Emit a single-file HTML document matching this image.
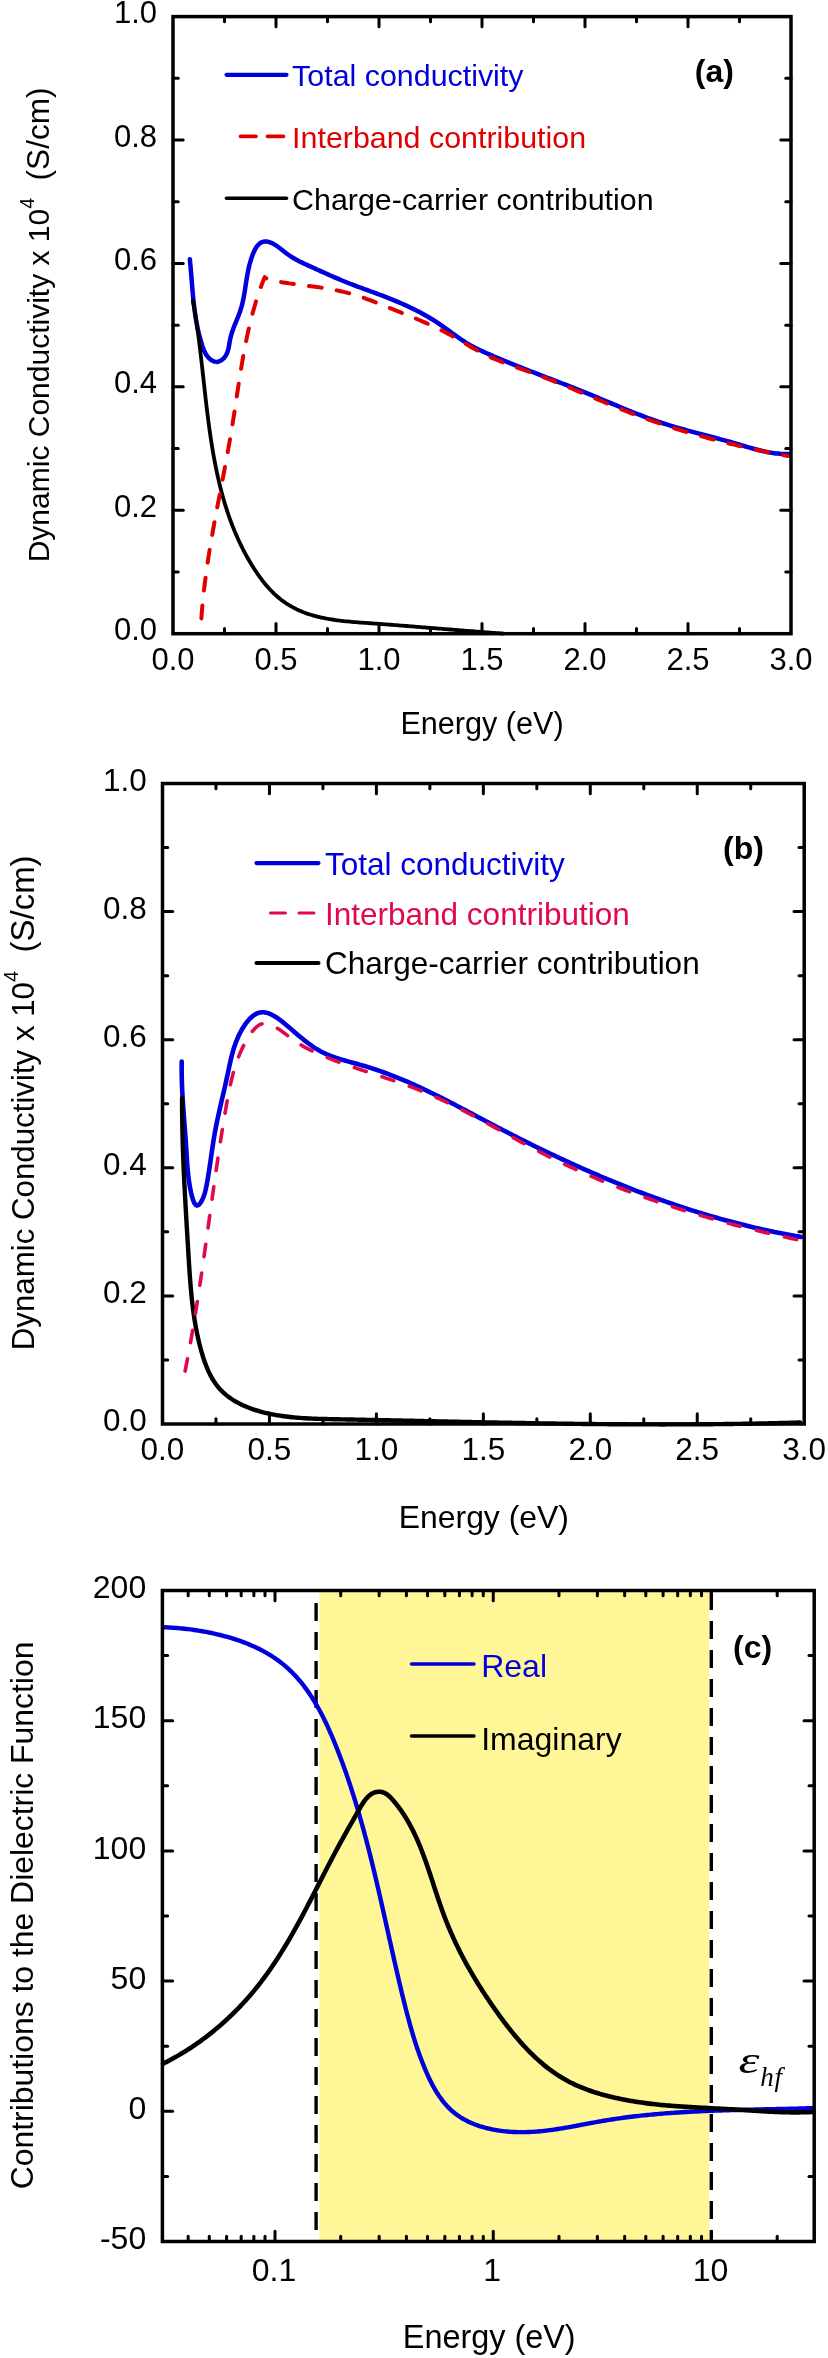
<!DOCTYPE html>
<html><head><meta charset="utf-8"><style>
html,body{margin:0;padding:0;background:#fff;font-family:"Liberation Sans", sans-serif;width:828px;height:2358px;overflow:hidden;}
svg{display:block;filter:blur(0.35px);}

</style></head><body>
<svg width="828" height="2358" viewBox="0 0 828 2358">
<rect x="0" y="0" width="828" height="2358" fill="#fff"/>
<line x1="224.50" y1="633.70" x2="224.50" y2="628.50" stroke="#000" stroke-width="3.00" stroke-linecap="round"/>
<line x1="224.50" y1="16.60" x2="224.50" y2="21.80" stroke="#000" stroke-width="3.00" stroke-linecap="round"/>
<line x1="276.00" y1="633.70" x2="276.00" y2="623.50" stroke="#000" stroke-width="3.00" stroke-linecap="round"/>
<line x1="276.00" y1="16.60" x2="276.00" y2="26.80" stroke="#000" stroke-width="3.00" stroke-linecap="round"/>
<line x1="327.50" y1="633.70" x2="327.50" y2="628.50" stroke="#000" stroke-width="3.00" stroke-linecap="round"/>
<line x1="327.50" y1="16.60" x2="327.50" y2="21.80" stroke="#000" stroke-width="3.00" stroke-linecap="round"/>
<line x1="379.00" y1="633.70" x2="379.00" y2="623.50" stroke="#000" stroke-width="3.00" stroke-linecap="round"/>
<line x1="379.00" y1="16.60" x2="379.00" y2="26.80" stroke="#000" stroke-width="3.00" stroke-linecap="round"/>
<line x1="430.50" y1="633.70" x2="430.50" y2="628.50" stroke="#000" stroke-width="3.00" stroke-linecap="round"/>
<line x1="430.50" y1="16.60" x2="430.50" y2="21.80" stroke="#000" stroke-width="3.00" stroke-linecap="round"/>
<line x1="482.00" y1="633.70" x2="482.00" y2="623.50" stroke="#000" stroke-width="3.00" stroke-linecap="round"/>
<line x1="482.00" y1="16.60" x2="482.00" y2="26.80" stroke="#000" stroke-width="3.00" stroke-linecap="round"/>
<line x1="533.50" y1="633.70" x2="533.50" y2="628.50" stroke="#000" stroke-width="3.00" stroke-linecap="round"/>
<line x1="533.50" y1="16.60" x2="533.50" y2="21.80" stroke="#000" stroke-width="3.00" stroke-linecap="round"/>
<line x1="585.00" y1="633.70" x2="585.00" y2="623.50" stroke="#000" stroke-width="3.00" stroke-linecap="round"/>
<line x1="585.00" y1="16.60" x2="585.00" y2="26.80" stroke="#000" stroke-width="3.00" stroke-linecap="round"/>
<line x1="636.50" y1="633.70" x2="636.50" y2="628.50" stroke="#000" stroke-width="3.00" stroke-linecap="round"/>
<line x1="636.50" y1="16.60" x2="636.50" y2="21.80" stroke="#000" stroke-width="3.00" stroke-linecap="round"/>
<line x1="688.00" y1="633.70" x2="688.00" y2="623.50" stroke="#000" stroke-width="3.00" stroke-linecap="round"/>
<line x1="688.00" y1="16.60" x2="688.00" y2="26.80" stroke="#000" stroke-width="3.00" stroke-linecap="round"/>
<line x1="739.50" y1="633.70" x2="739.50" y2="628.50" stroke="#000" stroke-width="3.00" stroke-linecap="round"/>
<line x1="739.50" y1="16.60" x2="739.50" y2="21.80" stroke="#000" stroke-width="3.00" stroke-linecap="round"/>
<line x1="173.00" y1="571.99" x2="178.20" y2="571.99" stroke="#000" stroke-width="3.00" stroke-linecap="round"/>
<line x1="791.00" y1="571.99" x2="785.80" y2="571.99" stroke="#000" stroke-width="3.00" stroke-linecap="round"/>
<line x1="173.00" y1="510.28" x2="183.20" y2="510.28" stroke="#000" stroke-width="3.00" stroke-linecap="round"/>
<line x1="791.00" y1="510.28" x2="780.80" y2="510.28" stroke="#000" stroke-width="3.00" stroke-linecap="round"/>
<line x1="173.00" y1="448.57" x2="178.20" y2="448.57" stroke="#000" stroke-width="3.00" stroke-linecap="round"/>
<line x1="791.00" y1="448.57" x2="785.80" y2="448.57" stroke="#000" stroke-width="3.00" stroke-linecap="round"/>
<line x1="173.00" y1="386.86" x2="183.20" y2="386.86" stroke="#000" stroke-width="3.00" stroke-linecap="round"/>
<line x1="791.00" y1="386.86" x2="780.80" y2="386.86" stroke="#000" stroke-width="3.00" stroke-linecap="round"/>
<line x1="173.00" y1="325.15" x2="178.20" y2="325.15" stroke="#000" stroke-width="3.00" stroke-linecap="round"/>
<line x1="791.00" y1="325.15" x2="785.80" y2="325.15" stroke="#000" stroke-width="3.00" stroke-linecap="round"/>
<line x1="173.00" y1="263.44" x2="183.20" y2="263.44" stroke="#000" stroke-width="3.00" stroke-linecap="round"/>
<line x1="791.00" y1="263.44" x2="780.80" y2="263.44" stroke="#000" stroke-width="3.00" stroke-linecap="round"/>
<line x1="173.00" y1="201.73" x2="178.20" y2="201.73" stroke="#000" stroke-width="3.00" stroke-linecap="round"/>
<line x1="791.00" y1="201.73" x2="785.80" y2="201.73" stroke="#000" stroke-width="3.00" stroke-linecap="round"/>
<line x1="173.00" y1="140.02" x2="183.20" y2="140.02" stroke="#000" stroke-width="3.00" stroke-linecap="round"/>
<line x1="791.00" y1="140.02" x2="780.80" y2="140.02" stroke="#000" stroke-width="3.00" stroke-linecap="round"/>
<line x1="173.00" y1="78.31" x2="178.20" y2="78.31" stroke="#000" stroke-width="3.00" stroke-linecap="round"/>
<line x1="791.00" y1="78.31" x2="785.80" y2="78.31" stroke="#000" stroke-width="3.00" stroke-linecap="round"/>
<text x="173.00" y="670.00" font-size="31.00" text-anchor="middle" font-weight="normal" fill="#000" font-family='"Liberation Sans", sans-serif' >0.0</text>
<text x="276.00" y="670.00" font-size="31.00" text-anchor="middle" font-weight="normal" fill="#000" font-family='"Liberation Sans", sans-serif' >0.5</text>
<text x="379.00" y="670.00" font-size="31.00" text-anchor="middle" font-weight="normal" fill="#000" font-family='"Liberation Sans", sans-serif' >1.0</text>
<text x="482.00" y="670.00" font-size="31.00" text-anchor="middle" font-weight="normal" fill="#000" font-family='"Liberation Sans", sans-serif' >1.5</text>
<text x="585.00" y="670.00" font-size="31.00" text-anchor="middle" font-weight="normal" fill="#000" font-family='"Liberation Sans", sans-serif' >2.0</text>
<text x="688.00" y="670.00" font-size="31.00" text-anchor="middle" font-weight="normal" fill="#000" font-family='"Liberation Sans", sans-serif' >2.5</text>
<text x="791.00" y="670.00" font-size="31.00" text-anchor="middle" font-weight="normal" fill="#000" font-family='"Liberation Sans", sans-serif' >3.0</text>
<text x="157.10" y="640.20" font-size="31.00" text-anchor="end" font-weight="normal" fill="#000" font-family='"Liberation Sans", sans-serif' >0.0</text>
<text x="157.10" y="516.78" font-size="31.00" text-anchor="end" font-weight="normal" fill="#000" font-family='"Liberation Sans", sans-serif' >0.2</text>
<text x="157.10" y="393.36" font-size="31.00" text-anchor="end" font-weight="normal" fill="#000" font-family='"Liberation Sans", sans-serif' >0.4</text>
<text x="157.10" y="269.94" font-size="31.00" text-anchor="end" font-weight="normal" fill="#000" font-family='"Liberation Sans", sans-serif' >0.6</text>
<text x="157.10" y="146.52" font-size="31.00" text-anchor="end" font-weight="normal" fill="#000" font-family='"Liberation Sans", sans-serif' >0.8</text>
<text x="157.10" y="23.10" font-size="31.00" text-anchor="end" font-weight="normal" fill="#000" font-family='"Liberation Sans", sans-serif' >1.0</text>
<text x="482.00" y="733.80" font-size="30.60" text-anchor="middle" font-weight="normal" fill="#000" font-family='"Liberation Sans", sans-serif' >Energy (eV)</text>
<text transform="translate(49.3,562.3) rotate(-90)" font-size="30" font-family='"Liberation Sans", sans-serif' fill="#000">Dynamic Conductivity x 10<tspan font-size="19.5" dy="-15.5">4</tspan><tspan dy="15.5" font-size="31.6">&#160;&#160;(S/cm)</tspan></text>
<path d="M189.85,259.25 L190.05,261.30 L190.25,263.35 L190.44,265.39 L190.62,267.42 L190.80,269.44 L190.97,271.46 L191.14,273.47 L191.30,275.48 L191.46,277.48 L191.62,279.48 L191.78,281.47 L191.94,283.45 L192.10,285.44 L192.27,287.41 L192.43,289.39 L192.60,291.36 L192.78,293.33 L192.96,295.30 L193.14,297.26 L193.34,299.23 L193.54,301.19 L193.75,303.15 L193.98,305.11 L194.21,307.07 L194.46,309.03 L194.71,310.99 L194.99,312.95 L195.27,314.91 L195.58,316.88 L195.89,318.84 L196.23,320.81 L196.58,322.78 L196.96,324.75 L197.35,326.73 L197.76,328.71 L198.20,330.69 L198.66,332.68 L199.14,334.68 L199.65,336.67 L200.18,338.68 L200.74,340.68 L201.33,342.70 L201.94,344.72 L202.60,346.72 L203.32,348.69 L204.10,350.61 L204.98,352.46 L205.95,354.21 L207.04,355.86 L208.26,357.38 L209.61,358.74 L211.13,359.94 L212.79,360.92 L214.55,361.60 L216.33,361.89 L218.09,361.73 L219.80,361.16 L221.43,360.25 L222.95,359.05 L224.32,357.61 L225.52,355.99 L226.52,354.25 L227.32,352.41 L227.95,350.51 L228.46,348.54 L228.88,346.54 L229.23,344.50 L229.57,342.46 L229.93,340.42 L230.34,338.41 L230.82,336.42 L231.37,334.45 L231.96,332.51 L232.61,330.59 L233.29,328.69 L234.01,326.80 L234.75,324.92 L235.50,323.06 L236.26,321.20 L237.02,319.35 L237.77,317.50 L238.50,315.65 L239.21,313.80 L239.88,311.94 L240.52,310.08 L241.10,308.20 L241.64,306.32 L242.14,304.42 L242.60,302.52 L243.03,300.60 L243.43,298.68 L243.80,296.75 L244.15,294.81 L244.48,292.87 L244.80,290.91 L245.10,288.95 L245.41,286.99 L245.70,285.02 L246.00,283.04 L246.31,281.05 L246.63,279.07 L246.95,277.07 L247.30,275.08 L247.67,273.07 L248.06,271.07 L248.48,269.06 L248.94,267.05 L249.43,265.04 L249.96,263.02 L250.54,261.01 L251.17,258.99 L251.85,256.97 L252.59,254.95 L253.39,252.95 L254.26,250.99 L255.20,249.12 L256.24,247.37 L257.37,245.79 L258.61,244.40 L259.96,243.24 L261.43,242.35 L263.03,241.77 L264.74,241.51 L266.49,241.53 L268.25,241.81 L269.99,242.30 L271.71,243.00 L273.43,243.86 L275.13,244.87 L276.83,246.00 L278.52,247.22 L280.21,248.50 L281.90,249.83 L283.59,251.17 L285.28,252.49 L286.97,253.78 L288.67,255.00 L290.38,256.16 L292.10,257.26 L293.83,258.30 L295.56,259.29 L297.30,260.23 L299.04,261.14 L300.79,262.02 L302.55,262.88 L304.32,263.71 L306.09,264.53 L307.88,265.35 L309.66,266.16 L311.46,266.98 L313.26,267.80 L315.07,268.62 L316.88,269.44 L318.70,270.27 L320.52,271.09 L322.35,271.92 L324.18,272.74 L326.02,273.56 L327.86,274.38 L329.70,275.19 L331.55,276.01 L333.40,276.81 L335.25,277.61 L337.10,278.41 L338.96,279.19 L340.81,279.97 L342.67,280.74 L344.53,281.50 L346.39,282.26 L348.25,283.00 L350.11,283.73 L351.96,284.45 L353.82,285.16 L355.68,285.86 L357.54,286.56 L359.39,287.25 L361.25,287.93 L363.11,288.61 L364.97,289.29 L366.82,289.97 L368.68,290.65 L370.54,291.32 L372.40,292.00 L374.26,292.69 L376.12,293.37 L377.98,294.06 L379.85,294.76 L381.71,295.46 L383.58,296.17 L385.44,296.89 L387.31,297.62 L389.17,298.35 L391.03,299.10 L392.89,299.85 L394.75,300.62 L396.61,301.39 L398.47,302.18 L400.32,302.97 L402.16,303.78 L404.01,304.59 L405.84,305.42 L407.68,306.27 L409.51,307.12 L411.33,307.99 L413.14,308.87 L414.95,309.76 L416.75,310.67 L418.54,311.59 L420.33,312.53 L422.10,313.48 L423.87,314.45 L425.63,315.43 L427.38,316.43 L429.11,317.44 L430.84,318.47 L432.55,319.52 L434.26,320.59 L435.95,321.67 L437.63,322.78 L439.29,323.90 L440.94,325.03 L442.59,326.18 L444.22,327.34 L445.85,328.51 L447.48,329.68 L449.10,330.86 L450.72,332.04 L452.34,333.22 L453.96,334.39 L455.58,335.56 L457.21,336.72 L458.84,337.86 L460.49,338.99 L462.14,340.11 L463.80,341.21 L465.48,342.28 L467.17,343.33 L468.88,344.36 L470.60,345.35 L472.34,346.32 L474.10,347.26 L475.88,348.17 L477.66,349.06 L479.46,349.93 L481.27,350.78 L483.09,351.62 L484.91,352.45 L486.74,353.26 L488.57,354.07 L490.41,354.88 L492.25,355.67 L494.09,356.47 L495.93,357.26 L497.77,358.04 L499.61,358.82 L501.46,359.59 L503.31,360.36 L505.16,361.12 L507.01,361.89 L508.86,362.64 L510.72,363.40 L512.58,364.15 L514.43,364.89 L516.29,365.64 L518.15,366.38 L520.01,367.12 L521.88,367.85 L523.74,368.59 L525.60,369.32 L527.47,370.05 L529.34,370.77 L531.20,371.50 L533.07,372.22 L534.94,372.95 L536.81,373.67 L538.68,374.39 L540.55,375.11 L542.42,375.83 L544.29,376.54 L546.16,377.26 L548.03,377.98 L549.90,378.70 L551.77,379.42 L553.64,380.14 L555.51,380.85 L557.38,381.57 L559.25,382.30 L561.12,383.02 L562.99,383.74 L564.86,384.47 L566.73,385.19 L568.60,385.92 L570.47,386.65 L572.34,387.38 L574.20,388.12 L576.07,388.85 L577.93,389.59 L579.80,390.34 L581.66,391.08 L583.52,391.83 L585.38,392.58 L587.24,393.34 L589.10,394.10 L590.95,394.86 L592.81,395.62 L594.67,396.39 L596.52,397.16 L598.37,397.94 L600.23,398.71 L602.08,399.49 L603.93,400.26 L605.78,401.04 L607.63,401.82 L609.49,402.59 L611.34,403.37 L613.19,404.15 L615.04,404.92 L616.90,405.69 L618.75,406.46 L620.60,407.23 L622.46,408.00 L624.31,408.76 L626.17,409.52 L628.03,410.28 L629.89,411.03 L631.75,411.78 L633.61,412.52 L635.48,413.26 L637.34,413.99 L639.21,414.72 L641.08,415.44 L642.95,416.16 L644.82,416.87 L646.70,417.57 L648.58,418.26 L650.46,418.95 L652.34,419.63 L654.23,420.30 L656.12,420.96 L658.01,421.61 L659.91,422.25 L661.81,422.88 L663.71,423.50 L665.61,424.12 L667.52,424.72 L669.44,425.31 L671.35,425.90 L673.27,426.47 L675.19,427.04 L677.11,427.61 L679.03,428.16 L680.96,428.71 L682.89,429.25 L684.82,429.79 L686.75,430.32 L688.69,430.85 L690.62,431.38 L692.56,431.90 L694.50,432.42 L696.44,432.93 L698.38,433.45 L700.32,433.96 L702.26,434.47 L704.20,434.98 L706.15,435.48 L708.09,435.99 L710.03,436.50 L711.98,437.01 L713.92,437.52 L715.86,438.04 L717.80,438.55 L719.75,439.07 L721.69,439.59 L723.63,440.12 L725.57,440.64 L727.51,441.18 L729.44,441.72 L731.38,442.26 L733.32,442.81 L735.25,443.36 L737.18,443.93 L739.11,444.50 L741.04,445.07 L742.96,445.65 L744.89,446.22 L746.82,446.79 L748.75,447.36 L750.67,447.92 L752.60,448.47 L754.53,449.01 L756.46,449.53 L758.40,450.04 L760.34,450.52 L762.28,450.99 L764.22,451.43 L766.17,451.84 L768.12,452.22 L770.08,452.57 L772.04,452.89 L774.01,453.17 L775.99,453.41 L777.97,453.61 L779.96,453.77 L781.95,453.88 L783.96,453.94 L785.97,453.95 L787.99,453.91" fill="none" stroke="#0000dc" stroke-width="4.50" stroke-linecap="round" stroke-linejoin="round" />
<path d="M192.87,300.88 L193.22,302.79 L193.57,304.70 L193.91,306.61 L194.24,308.53 L194.57,310.46 L194.90,312.38 L195.21,314.32 L195.52,316.25 L195.83,318.19 L196.13,320.13 L196.42,322.08 L196.71,324.03 L197.00,325.99 L197.28,327.94 L197.56,329.90 L197.83,331.87 L198.09,333.83 L198.36,335.80 L198.62,337.77 L198.87,339.75 L199.13,341.73 L199.38,343.71 L199.62,345.69 L199.87,347.68 L200.11,349.66 L200.35,351.65 L200.58,353.65 L200.82,355.64 L201.05,357.64 L201.28,359.64 L201.51,361.64 L201.74,363.64 L201.96,365.65 L202.19,367.65 L202.41,369.66 L202.63,371.67 L202.86,373.68 L203.08,375.69 L203.30,377.70 L203.52,379.72 L203.75,381.73 L203.97,383.75 L204.19,385.76 L204.42,387.78 L204.64,389.80 L204.87,391.82 L205.09,393.84 L205.32,395.86 L205.55,397.88 L205.78,399.90 L206.02,401.92 L206.25,403.94 L206.49,405.96 L206.73,407.98 L206.98,410.00 L207.22,412.02 L207.47,414.04 L207.72,416.06 L207.98,418.08 L208.24,420.09 L208.50,422.11 L208.77,424.13 L209.04,426.14 L209.32,428.16 L209.60,430.17 L209.88,432.18 L210.17,434.20 L210.46,436.21 L210.76,438.22 L211.07,440.22 L211.38,442.23 L211.70,444.23 L212.02,446.24 L212.35,448.24 L212.68,450.24 L213.02,452.23 L213.37,454.23 L213.72,456.22 L214.08,458.21 L214.45,460.20 L214.83,462.19 L215.21,464.17 L215.60,466.15 L216.00,468.13 L216.40,470.10 L216.82,472.08 L217.24,474.05 L217.67,476.01 L218.11,477.98 L218.56,479.94 L219.02,481.89 L219.49,483.85 L219.96,485.80 L220.45,487.75 L220.95,489.69 L221.45,491.63 L221.97,493.57 L222.50,495.50 L223.03,497.43 L223.58,499.35 L224.14,501.27 L224.71,503.19 L225.29,505.10 L225.89,507.01 L226.49,508.91 L227.11,510.81 L227.73,512.70 L228.37,514.59 L229.03,516.47 L229.69,518.35 L230.37,520.23 L231.06,522.10 L231.76,523.96 L232.48,525.82 L233.21,527.67 L233.95,529.52 L234.71,531.37 L235.48,533.20 L236.26,535.04 L237.06,536.86 L237.88,538.68 L238.71,540.50 L239.55,542.30 L240.41,544.11 L241.28,545.90 L242.17,547.69 L243.07,549.48 L243.99,551.25 L244.93,553.02 L245.88,554.79 L246.85,556.55 L247.83,558.30 L248.83,560.04 L249.85,561.78 L250.89,563.51 L251.94,565.23 L253.01,566.95 L254.09,568.65 L255.20,570.35 L256.32,572.04 L257.46,573.72 L258.62,575.39 L259.81,577.04 L261.01,578.67 L262.23,580.29 L263.47,581.88 L264.74,583.46 L266.02,585.01 L267.33,586.54 L268.67,588.05 L270.02,589.53 L271.40,590.98 L272.81,592.40 L274.24,593.78 L275.70,595.14 L277.18,596.46 L278.69,597.75 L280.22,599.00 L281.78,600.21 L283.37,601.38 L284.98,602.52 L286.62,603.62 L288.28,604.68 L289.96,605.70 L291.66,606.69 L293.39,607.63 L295.14,608.54 L296.90,609.41 L298.69,610.24 L300.49,611.03 L302.31,611.79 L304.15,612.51 L306.01,613.19 L307.88,613.85 L309.77,614.47 L311.67,615.05 L313.59,615.61 L315.52,616.14 L317.46,616.64 L319.42,617.11 L321.39,617.56 L323.37,617.98 L325.35,618.38 L327.35,618.75 L329.36,619.10 L331.38,619.44 L333.40,619.75 L335.43,620.04 L337.47,620.32 L339.51,620.58 L341.55,620.83 L343.61,621.06 L345.66,621.28 L347.72,621.48 L349.78,621.68 L351.85,621.86 L353.91,622.04 L355.97,622.21 L358.04,622.37 L360.10,622.53 L362.17,622.68 L364.23,622.83 L366.28,622.97 L368.34,623.12 L370.39,623.26 L372.43,623.41 L374.48,623.56 L376.51,623.71 L378.55,623.85 L380.58,624.00 L382.60,624.15 L384.62,624.30 L386.64,624.46 L388.65,624.61 L390.66,624.76 L392.67,624.91 L394.68,625.07 L396.68,625.22 L398.68,625.38 L400.68,625.53 L402.67,625.69 L404.66,625.85 L406.65,626.00 L408.64,626.16 L410.63,626.32 L412.61,626.48 L414.59,626.63 L416.58,626.79 L418.56,626.95 L420.54,627.11 L422.51,627.27 L424.49,627.43 L426.47,627.59 L428.44,627.75 L430.42,627.91 L432.40,628.07 L434.37,628.23 L436.35,628.39 L438.32,628.55 L440.30,628.71 L442.28,628.87 L444.26,629.03 L446.23,629.19 L448.21,629.35 L450.20,629.51 L452.18,629.67 L454.16,629.83 L456.15,629.99 L458.13,630.15 L460.12,630.31 L462.11,630.46 L464.10,630.62 L466.10,630.78 L468.10,630.94 L470.10,631.09 L472.10,631.25 L474.11,631.40 L476.11,631.56 L478.13,631.71 L480.14,631.87 L482.16,632.02 L484.18,632.17 L486.21,632.33 L488.24,632.48 L490.27,632.63 L492.31,632.78 L494.35,632.93 L496.40,633.07 L498.45,633.22 L500.51,633.37 L502.57,633.51" fill="none" stroke="#000" stroke-width="3.80" stroke-linecap="round" stroke-linejoin="round" />
<path d="M201.27,620.25 L201.40,618.24 L201.54,616.23 L201.69,614.22 L201.84,612.21 L202.00,610.20 L202.17,608.19 L202.34,606.18 L202.52,604.18 L202.71,602.17 L202.91,600.17 L203.11,598.17 L203.32,596.17 L203.53,594.17 L203.75,592.17 L203.97,590.17 L204.21,588.18 L204.44,586.18 L204.69,584.19 L204.93,582.20 L205.19,580.20 L205.45,578.21 L205.71,576.22 L205.98,574.23 L206.25,572.24 L206.53,570.25 L206.82,568.27 L207.10,566.28 L207.40,564.30 L207.69,562.31 L208.00,560.33 L208.30,558.34 L208.61,556.36 L208.92,554.38 L209.24,552.40 L209.56,550.41 L209.89,548.43 L210.22,546.45 L210.55,544.47 L210.88,542.49 L211.22,540.52 L211.56,538.54 L211.90,536.56 L212.25,534.58 L212.60,532.61 L212.95,530.63 L213.30,528.65 L213.66,526.68 L214.02,524.70 L214.38,522.73 L214.74,520.75 L215.11,518.78 L215.47,516.80 L215.84,514.83 L216.21,512.85 L216.58,510.88 L216.95,508.90 L217.33,506.93 L217.70,504.96 L218.08,502.98 L218.45,501.01 L218.83,499.03 L219.21,497.06 L219.59,495.09 L219.97,493.11 L220.35,491.14 L220.72,489.16 L221.10,487.19 L221.48,485.21 L221.86,483.24 L222.24,481.26 L222.62,479.29 L223.00,477.31 L223.37,475.34 L223.75,473.36 L224.12,471.38 L224.50,469.41 L224.87,467.43 L225.25,465.45 L225.62,463.47 L225.99,461.50 L226.35,459.52 L226.72,457.54 L227.08,455.56 L227.45,453.58 L227.81,451.59 L228.17,449.61 L228.52,447.63 L228.88,445.65 L229.23,443.66 L229.58,441.68 L229.92,439.69 L230.27,437.71 L230.61,435.72 L230.95,433.74 L231.28,431.75 L231.61,429.76 L231.94,427.77 L232.27,425.78 L232.59,423.79 L232.91,421.79 L233.22,419.80 L233.53,417.81 L233.84,415.81 L234.15,413.82 L234.46,411.83 L234.76,409.83 L235.07,407.83 L235.37,405.84 L235.67,403.84 L235.97,401.85 L236.27,399.85 L236.57,397.86 L236.87,395.86 L237.17,393.86 L237.47,391.87 L237.77,389.87 L238.08,387.88 L238.38,385.89 L238.69,383.89 L238.99,381.90 L239.30,379.91 L239.61,377.91 L239.93,375.92 L240.24,373.93 L240.56,371.94 L240.89,369.96 L241.21,367.97 L241.54,365.98 L241.87,364.00 L242.21,362.01 L242.55,360.03 L242.90,358.05 L243.25,356.07 L243.61,354.09 L243.97,352.12 L244.34,350.14 L244.71,348.17 L245.09,346.20 L245.47,344.23 L245.86,342.26 L246.26,340.30 L246.67,338.33 L247.08,336.37 L247.50,334.41 L247.93,332.46 L248.36,330.50 L248.81,328.55 L249.26,326.60 L249.72,324.65 L250.19,322.71 L250.67,320.77 L251.16,318.83 L251.66,316.89 L252.16,314.96 L252.68,313.03 L253.21,311.10 L253.75,309.18 L254.30,307.26 L254.86,305.34 L255.43,303.42 L256.01,301.51 L256.61,299.60 L257.22,297.70 L257.84,295.80 L258.47,293.90 L259.11,292.00 L259.77,290.11 L260.44,288.23 L261.13,286.35 L261.82,284.47 L262.54,282.59 L263.26,280.72 L264.00,278.85 L264.76,276.99 L265.83,278.21 L267.70,278.86 L269.59,279.46 L271.49,280.00 L273.41,280.50 L275.33,280.96 L277.27,281.39 L279.21,281.78 L281.17,282.14 L283.13,282.47 L285.10,282.78 L287.07,283.08 L289.05,283.36 L291.03,283.63 L293.02,283.90 L295.01,284.16 L297.00,284.42 L298.99,284.68 L300.98,284.94 L302.98,285.19 L304.97,285.45 L306.97,285.71 L308.96,285.97 L310.96,286.23 L312.96,286.50 L314.95,286.77 L316.95,287.05 L318.94,287.33 L320.93,287.63 L322.92,287.93 L324.91,288.24 L326.90,288.56 L328.88,288.90 L330.86,289.25 L332.84,289.61 L334.81,289.98 L336.78,290.37 L338.75,290.78 L340.71,291.20 L342.67,291.64 L344.62,292.10 L346.56,292.58 L348.50,293.08 L350.44,293.61 L352.37,294.15 L354.29,294.72 L356.21,295.32 L358.11,295.93 L360.02,296.57 L361.92,297.22 L363.81,297.89 L365.70,298.57 L367.59,299.27 L369.47,299.99 L371.35,300.71 L373.22,301.44 L375.09,302.18 L376.96,302.93 L378.83,303.68 L380.70,304.43 L382.57,305.18 L384.43,305.94 L386.30,306.69 L388.17,307.44 L390.03,308.19 L391.90,308.94 L393.76,309.68 L395.63,310.43 L397.49,311.17 L399.36,311.92 L401.22,312.66 L403.09,313.41 L404.95,314.15 L406.81,314.90 L408.67,315.66 L410.53,316.41 L412.38,317.17 L414.24,317.94 L416.09,318.71 L417.94,319.48 L419.79,320.26 L421.64,321.05 L423.48,321.85 L425.32,322.65 L427.16,323.46 L428.99,324.28 L430.82,325.11 L432.64,325.96 L434.46,326.81 L436.27,327.68 L438.07,328.56 L439.87,329.45 L441.66,330.35 L443.44,331.27 L445.21,332.21 L446.98,333.16 L448.74,334.12 L450.50,335.09 L452.25,336.07 L453.99,337.06 L455.73,338.06 L457.47,339.06 L459.20,340.07 L460.93,341.08 L462.66,342.10 L464.39,343.11 L466.11,344.13 L467.84,345.14 L469.57,346.15 L471.31,347.15 L473.05,348.14 L474.79,349.13 L476.54,350.10 L478.29,351.06 L480.05,352.01 L481.82,352.94 L483.59,353.86 L485.38,354.76 L487.17,355.64 L488.98,356.49 L490.80,357.33 L492.62,358.14 L494.46,358.94 L496.31,359.72 L498.16,360.49 L500.02,361.24 L501.89,361.97 L503.77,362.69 L505.65,363.41 L507.53,364.11 L509.42,364.80 L511.32,365.49 L513.22,366.17 L515.12,366.85 L517.02,367.52 L518.92,368.19 L520.83,368.86 L522.73,369.53 L524.64,370.20 L526.54,370.88 L528.44,371.55 L530.34,372.24 L532.23,372.93 L534.13,373.62 L536.02,374.32 L537.90,375.03 L539.79,375.74 L541.67,376.46 L543.55,377.18 L545.43,377.91 L547.31,378.64 L549.18,379.38 L551.05,380.12 L552.92,380.87 L554.79,381.62 L556.66,382.37 L558.52,383.12 L560.38,383.88 L562.25,384.65 L564.11,385.41 L565.97,386.18 L567.82,386.95 L569.68,387.72 L571.54,388.49 L573.39,389.27 L575.25,390.05 L577.10,390.82 L578.95,391.60 L580.81,392.39 L582.66,393.17 L584.51,393.95 L586.36,394.73 L588.21,395.51 L590.07,396.30 L591.92,397.08 L593.77,397.86 L595.62,398.64 L597.47,399.42 L599.33,400.20 L601.18,400.97 L603.03,401.75 L604.89,402.52 L606.74,403.30 L608.60,404.07 L610.46,404.83 L612.31,405.60 L614.17,406.36 L616.03,407.12 L617.89,407.88 L619.76,408.63 L621.62,409.38 L623.49,410.12 L625.36,410.87 L627.23,411.60 L629.10,412.34 L630.97,413.06 L632.85,413.79 L634.73,414.51 L636.61,415.22 L638.49,415.93 L640.37,416.63 L642.26,417.33 L644.15,418.02 L646.04,418.70 L647.94,419.38 L649.83,420.06 L651.73,420.73 L653.63,421.39 L655.53,422.05 L657.44,422.71 L659.35,423.36 L661.25,424.00 L663.16,424.64 L665.08,425.27 L666.99,425.90 L668.91,426.52 L670.82,427.14 L672.74,427.76 L674.66,428.36 L676.59,428.97 L678.51,429.57 L680.44,430.16 L682.37,430.75 L684.29,431.33 L686.23,431.91 L688.16,432.48 L690.09,433.05 L692.03,433.62 L693.96,434.18 L695.90,434.73 L697.84,435.28 L699.78,435.83 L701.72,436.37 L703.66,436.91 L705.61,437.44 L707.55,437.96 L709.50,438.49 L711.45,439.01 L713.39,439.52 L715.34,440.03 L717.29,440.53 L719.24,441.03 L721.19,441.53 L723.15,442.02 L725.10,442.51 L727.06,442.99 L729.01,443.47 L730.97,443.94 L732.92,444.41 L734.88,444.88 L736.84,445.34 L738.79,445.80 L740.75,446.25 L742.71,446.70 L744.67,447.15 L746.63,447.59 L748.59,448.03 L750.55,448.46 L752.51,448.89 L754.48,449.31 L756.44,449.74 L758.40,450.15 L760.36,450.57 L762.32,450.98 L764.28,451.38 L766.25,451.78 L768.21,452.18 L770.17,452.58 L772.13,452.97 L774.10,453.36 L776.06,453.74 L778.02,454.12 L779.98,454.49 L781.94,454.87 L783.91,455.24 L785.87,455.60 L787.83,455.96" fill="none" stroke="#e00000" stroke-width="4.00" stroke-linecap="round" stroke-linejoin="round" stroke-dasharray="12.9 15.2" stroke-dashoffset="-1.8"/>
<rect x="173.00" y="16.60" width="618.00" height="617.10" fill="none" stroke="#000" stroke-width="3.50"/>
<line x1="226.5" y1="74.8" x2="286.5" y2="74.8" stroke="#0000dc" stroke-width="4.2" stroke-linecap="round"/>
<text x="292.10" y="86.30" font-size="30.40" text-anchor="start" font-weight="normal" fill="#0000dc" font-family='"Liberation Sans", sans-serif' >Total conductivity</text>
<line x1="240.5" y1="136.4" x2="256" y2="136.4" stroke="#e00000" stroke-width="3.6" stroke-linecap="round"/>
<line x1="267.5" y1="136.4" x2="283.5" y2="136.4" stroke="#e00000" stroke-width="3.6" stroke-linecap="round"/>
<text x="292.10" y="148.00" font-size="30.40" text-anchor="start" font-weight="normal" fill="#e00000" font-family='"Liberation Sans", sans-serif' >Interband contribution</text>
<line x1="226.5" y1="198.3" x2="286.5" y2="198.3" stroke="#000" stroke-width="3.6" stroke-linecap="round"/>
<text x="292.10" y="209.50" font-size="30.40" text-anchor="start" font-weight="normal" fill="#000" font-family='"Liberation Sans", sans-serif' >Charge-carrier contribution</text>
<text x="694.80" y="82.30" font-size="32.00" text-anchor="start" font-weight="bold" fill="#000" font-family='"Liberation Sans", sans-serif' >(a)</text>
<line x1="215.97" y1="1424.00" x2="215.97" y2="1418.80" stroke="#000" stroke-width="3.00" stroke-linecap="round"/>
<line x1="215.97" y1="783.50" x2="215.97" y2="788.70" stroke="#000" stroke-width="3.00" stroke-linecap="round"/>
<line x1="269.45" y1="1424.00" x2="269.45" y2="1413.80" stroke="#000" stroke-width="3.00" stroke-linecap="round"/>
<line x1="269.45" y1="783.50" x2="269.45" y2="793.70" stroke="#000" stroke-width="3.00" stroke-linecap="round"/>
<line x1="322.93" y1="1424.00" x2="322.93" y2="1418.80" stroke="#000" stroke-width="3.00" stroke-linecap="round"/>
<line x1="322.93" y1="783.50" x2="322.93" y2="788.70" stroke="#000" stroke-width="3.00" stroke-linecap="round"/>
<line x1="376.40" y1="1424.00" x2="376.40" y2="1413.80" stroke="#000" stroke-width="3.00" stroke-linecap="round"/>
<line x1="376.40" y1="783.50" x2="376.40" y2="793.70" stroke="#000" stroke-width="3.00" stroke-linecap="round"/>
<line x1="429.88" y1="1424.00" x2="429.88" y2="1418.80" stroke="#000" stroke-width="3.00" stroke-linecap="round"/>
<line x1="429.88" y1="783.50" x2="429.88" y2="788.70" stroke="#000" stroke-width="3.00" stroke-linecap="round"/>
<line x1="483.35" y1="1424.00" x2="483.35" y2="1413.80" stroke="#000" stroke-width="3.00" stroke-linecap="round"/>
<line x1="483.35" y1="783.50" x2="483.35" y2="793.70" stroke="#000" stroke-width="3.00" stroke-linecap="round"/>
<line x1="536.83" y1="1424.00" x2="536.83" y2="1418.80" stroke="#000" stroke-width="3.00" stroke-linecap="round"/>
<line x1="536.83" y1="783.50" x2="536.83" y2="788.70" stroke="#000" stroke-width="3.00" stroke-linecap="round"/>
<line x1="590.30" y1="1424.00" x2="590.30" y2="1413.80" stroke="#000" stroke-width="3.00" stroke-linecap="round"/>
<line x1="590.30" y1="783.50" x2="590.30" y2="793.70" stroke="#000" stroke-width="3.00" stroke-linecap="round"/>
<line x1="643.78" y1="1424.00" x2="643.78" y2="1418.80" stroke="#000" stroke-width="3.00" stroke-linecap="round"/>
<line x1="643.78" y1="783.50" x2="643.78" y2="788.70" stroke="#000" stroke-width="3.00" stroke-linecap="round"/>
<line x1="697.25" y1="1424.00" x2="697.25" y2="1413.80" stroke="#000" stroke-width="3.00" stroke-linecap="round"/>
<line x1="697.25" y1="783.50" x2="697.25" y2="793.70" stroke="#000" stroke-width="3.00" stroke-linecap="round"/>
<line x1="750.73" y1="1424.00" x2="750.73" y2="1418.80" stroke="#000" stroke-width="3.00" stroke-linecap="round"/>
<line x1="750.73" y1="783.50" x2="750.73" y2="788.70" stroke="#000" stroke-width="3.00" stroke-linecap="round"/>
<line x1="162.50" y1="1359.95" x2="167.70" y2="1359.95" stroke="#000" stroke-width="3.00" stroke-linecap="round"/>
<line x1="804.20" y1="1359.95" x2="799.00" y2="1359.95" stroke="#000" stroke-width="3.00" stroke-linecap="round"/>
<line x1="162.50" y1="1295.90" x2="172.70" y2="1295.90" stroke="#000" stroke-width="3.00" stroke-linecap="round"/>
<line x1="804.20" y1="1295.90" x2="794.00" y2="1295.90" stroke="#000" stroke-width="3.00" stroke-linecap="round"/>
<line x1="162.50" y1="1231.85" x2="167.70" y2="1231.85" stroke="#000" stroke-width="3.00" stroke-linecap="round"/>
<line x1="804.20" y1="1231.85" x2="799.00" y2="1231.85" stroke="#000" stroke-width="3.00" stroke-linecap="round"/>
<line x1="162.50" y1="1167.80" x2="172.70" y2="1167.80" stroke="#000" stroke-width="3.00" stroke-linecap="round"/>
<line x1="804.20" y1="1167.80" x2="794.00" y2="1167.80" stroke="#000" stroke-width="3.00" stroke-linecap="round"/>
<line x1="162.50" y1="1103.75" x2="167.70" y2="1103.75" stroke="#000" stroke-width="3.00" stroke-linecap="round"/>
<line x1="804.20" y1="1103.75" x2="799.00" y2="1103.75" stroke="#000" stroke-width="3.00" stroke-linecap="round"/>
<line x1="162.50" y1="1039.70" x2="172.70" y2="1039.70" stroke="#000" stroke-width="3.00" stroke-linecap="round"/>
<line x1="804.20" y1="1039.70" x2="794.00" y2="1039.70" stroke="#000" stroke-width="3.00" stroke-linecap="round"/>
<line x1="162.50" y1="975.65" x2="167.70" y2="975.65" stroke="#000" stroke-width="3.00" stroke-linecap="round"/>
<line x1="804.20" y1="975.65" x2="799.00" y2="975.65" stroke="#000" stroke-width="3.00" stroke-linecap="round"/>
<line x1="162.50" y1="911.60" x2="172.70" y2="911.60" stroke="#000" stroke-width="3.00" stroke-linecap="round"/>
<line x1="804.20" y1="911.60" x2="794.00" y2="911.60" stroke="#000" stroke-width="3.00" stroke-linecap="round"/>
<line x1="162.50" y1="847.55" x2="167.70" y2="847.55" stroke="#000" stroke-width="3.00" stroke-linecap="round"/>
<line x1="804.20" y1="847.55" x2="799.00" y2="847.55" stroke="#000" stroke-width="3.00" stroke-linecap="round"/>
<text x="162.50" y="1459.50" font-size="31.50" text-anchor="middle" font-weight="normal" fill="#000" font-family='"Liberation Sans", sans-serif' >0.0</text>
<text x="269.45" y="1459.50" font-size="31.50" text-anchor="middle" font-weight="normal" fill="#000" font-family='"Liberation Sans", sans-serif' >0.5</text>
<text x="376.40" y="1459.50" font-size="31.50" text-anchor="middle" font-weight="normal" fill="#000" font-family='"Liberation Sans", sans-serif' >1.0</text>
<text x="483.35" y="1459.50" font-size="31.50" text-anchor="middle" font-weight="normal" fill="#000" font-family='"Liberation Sans", sans-serif' >1.5</text>
<text x="590.30" y="1459.50" font-size="31.50" text-anchor="middle" font-weight="normal" fill="#000" font-family='"Liberation Sans", sans-serif' >2.0</text>
<text x="697.25" y="1459.50" font-size="31.50" text-anchor="middle" font-weight="normal" fill="#000" font-family='"Liberation Sans", sans-serif' >2.5</text>
<text x="804.20" y="1459.50" font-size="31.50" text-anchor="middle" font-weight="normal" fill="#000" font-family='"Liberation Sans", sans-serif' >3.0</text>
<text x="146.80" y="1431.00" font-size="31.50" text-anchor="end" font-weight="normal" fill="#000" font-family='"Liberation Sans", sans-serif' >0.0</text>
<text x="146.80" y="1302.90" font-size="31.50" text-anchor="end" font-weight="normal" fill="#000" font-family='"Liberation Sans", sans-serif' >0.2</text>
<text x="146.80" y="1174.80" font-size="31.50" text-anchor="end" font-weight="normal" fill="#000" font-family='"Liberation Sans", sans-serif' >0.4</text>
<text x="146.80" y="1046.70" font-size="31.50" text-anchor="end" font-weight="normal" fill="#000" font-family='"Liberation Sans", sans-serif' >0.6</text>
<text x="146.80" y="918.60" font-size="31.50" text-anchor="end" font-weight="normal" fill="#000" font-family='"Liberation Sans", sans-serif' >0.8</text>
<text x="146.80" y="790.50" font-size="31.50" text-anchor="end" font-weight="normal" fill="#000" font-family='"Liberation Sans", sans-serif' >1.0</text>
<text x="483.85" y="1527.80" font-size="31.90" text-anchor="middle" font-weight="normal" fill="#000" font-family='"Liberation Sans", sans-serif' >Energy (eV)</text>
<text transform="translate(33.8,1350.2) rotate(-90)" font-size="31.25" font-family='"Liberation Sans", sans-serif' fill="#000">Dynamic Conductivity x 10<tspan font-size="20" dy="-16">4</tspan><tspan dy="16" font-size="33">&#160;&#160;(S/cm)</tspan></text>
<path d="M181.73,1061.67 L181.70,1063.71 L181.68,1065.76 L181.66,1067.79 L181.66,1069.83 L181.67,1071.85 L181.70,1073.88 L181.73,1075.90 L181.77,1077.92 L181.82,1079.93 L181.87,1081.94 L181.94,1083.95 L182.02,1085.95 L182.10,1087.96 L182.19,1089.96 L182.29,1091.95 L182.39,1093.95 L182.50,1095.94 L182.61,1097.93 L182.73,1099.92 L182.86,1101.91 L182.99,1103.90 L183.12,1105.89 L183.26,1107.87 L183.40,1109.86 L183.55,1111.84 L183.69,1113.82 L183.84,1115.81 L183.99,1117.79 L184.14,1119.78 L184.29,1121.76 L184.45,1123.75 L184.60,1125.73 L184.75,1127.72 L184.91,1129.71 L185.06,1131.70 L185.21,1133.69 L185.36,1135.69 L185.50,1137.68 L185.65,1139.68 L185.79,1141.68 L185.93,1143.68 L186.06,1145.69 L186.19,1147.70 L186.32,1149.71 L186.44,1151.72 L186.56,1153.74 L186.68,1155.76 L186.80,1157.79 L186.93,1159.82 L187.06,1161.85 L187.20,1163.89 L187.36,1165.93 L187.52,1167.98 L187.70,1170.03 L187.90,1172.09 L188.11,1174.15 L188.34,1176.22 L188.60,1178.29 L188.88,1180.37 L189.18,1182.45 L189.52,1184.54 L189.88,1186.64 L190.28,1188.74 L190.71,1190.85 L191.17,1192.97 L191.68,1195.09 L192.22,1197.18 L192.81,1199.16 L193.44,1200.98 L194.11,1202.58 L194.84,1203.88 L195.62,1204.83 L196.45,1205.36 L197.33,1205.43 L198.24,1205.09 L199.17,1204.37 L200.11,1203.32 L201.02,1202.00 L201.91,1200.45 L202.74,1198.73 L203.50,1196.87 L204.19,1194.91 L204.82,1192.86 L205.38,1190.75 L205.90,1188.58 L206.37,1186.38 L206.81,1184.15 L207.22,1181.92 L207.60,1179.70 L207.97,1177.51 L208.32,1175.34 L208.66,1173.20 L208.99,1171.09 L209.31,1169.00 L209.63,1166.93 L209.93,1164.89 L210.23,1162.86 L210.52,1160.85 L210.81,1158.85 L211.09,1156.87 L211.37,1154.91 L211.66,1152.95 L211.94,1151.01 L212.22,1149.07 L212.51,1147.14 L212.80,1145.21 L213.09,1143.29 L213.39,1141.38 L213.70,1139.46 L214.01,1137.54 L214.34,1135.62 L214.67,1133.70 L215.02,1131.77 L215.38,1129.83 L215.75,1127.89 L216.13,1125.95 L216.52,1123.99 L216.92,1122.04 L217.33,1120.08 L217.75,1118.11 L218.17,1116.15 L218.61,1114.17 L219.04,1112.20 L219.49,1110.22 L219.93,1108.25 L220.38,1106.27 L220.84,1104.28 L221.29,1102.30 L221.75,1100.32 L222.21,1098.33 L222.67,1096.35 L223.13,1094.36 L223.59,1092.38 L224.05,1090.40 L224.50,1088.42 L224.95,1086.44 L225.40,1084.46 L225.84,1082.48 L226.28,1080.51 L226.71,1078.54 L227.14,1076.58 L227.56,1074.61 L227.97,1072.66 L228.38,1070.70 L228.79,1068.75 L229.20,1066.81 L229.62,1064.86 L230.04,1062.93 L230.48,1060.99 L230.93,1059.06 L231.40,1057.13 L231.89,1055.21 L232.40,1053.29 L232.93,1051.38 L233.49,1049.47 L234.09,1047.56 L234.72,1045.66 L235.38,1043.76 L236.09,1041.87 L236.84,1039.98 L237.63,1038.09 L238.47,1036.21 L239.37,1034.33 L240.31,1032.46 L241.32,1030.59 L242.37,1028.74 L243.49,1026.92 L244.65,1025.15 L245.86,1023.43 L247.12,1021.79 L248.43,1020.23 L249.78,1018.77 L251.17,1017.42 L252.60,1016.20 L254.07,1015.12 L255.58,1014.18 L257.12,1013.42 L258.70,1012.83 L260.31,1012.44 L261.95,1012.26 L263.61,1012.27 L265.30,1012.48 L267.01,1012.87 L268.74,1013.42 L270.48,1014.12 L272.23,1014.96 L273.99,1015.92 L275.76,1016.99 L277.52,1018.16 L279.29,1019.41 L281.05,1020.73 L282.81,1022.10 L284.55,1023.52 L286.28,1024.96 L287.99,1026.42 L289.69,1027.88 L291.35,1029.32 L293.00,1030.75 L294.63,1032.16 L296.23,1033.54 L297.83,1034.90 L299.41,1036.24 L300.98,1037.55 L302.54,1038.84 L304.10,1040.10 L305.66,1041.33 L307.22,1042.54 L308.78,1043.71 L310.35,1044.85 L311.93,1045.97 L313.52,1047.04 L315.12,1048.09 L316.74,1049.10 L318.38,1050.07 L320.05,1051.01 L321.74,1051.91 L323.45,1052.77 L325.20,1053.60 L326.97,1054.38 L328.77,1055.14 L330.59,1055.86 L332.43,1056.55 L334.30,1057.22 L336.18,1057.86 L338.08,1058.49 L339.99,1059.09 L341.92,1059.68 L343.86,1060.25 L345.80,1060.81 L347.76,1061.36 L349.72,1061.91 L351.69,1062.45 L353.66,1062.99 L355.64,1063.53 L357.61,1064.07 L359.58,1064.62 L361.55,1065.18 L363.51,1065.74 L365.47,1066.32 L367.42,1066.91 L369.36,1067.52 L371.30,1068.13 L373.23,1068.75 L375.16,1069.39 L377.08,1070.03 L379.00,1070.69 L380.91,1071.36 L382.81,1072.03 L384.71,1072.72 L386.60,1073.42 L388.49,1074.12 L390.38,1074.84 L392.26,1075.56 L394.13,1076.30 L396.00,1077.04 L397.86,1077.79 L399.72,1078.55 L401.58,1079.32 L403.43,1080.10 L405.28,1080.88 L407.13,1081.67 L408.97,1082.47 L410.80,1083.28 L412.63,1084.09 L414.46,1084.91 L416.29,1085.74 L418.11,1086.57 L419.93,1087.41 L421.74,1088.26 L423.56,1089.11 L425.37,1089.97 L427.17,1090.83 L428.98,1091.70 L430.78,1092.57 L432.58,1093.45 L434.37,1094.33 L436.17,1095.22 L437.96,1096.12 L439.75,1097.01 L441.54,1097.91 L443.32,1098.82 L445.11,1099.73 L446.89,1100.64 L448.67,1101.55 L450.45,1102.47 L452.23,1103.39 L454.00,1104.31 L455.78,1105.24 L457.55,1106.17 L459.33,1107.10 L461.10,1108.03 L462.87,1108.96 L464.64,1109.90 L466.41,1110.84 L468.18,1111.77 L469.95,1112.71 L471.72,1113.65 L473.49,1114.59 L475.26,1115.53 L477.03,1116.47 L478.80,1117.41 L480.57,1118.35 L482.34,1119.29 L484.11,1120.23 L485.88,1121.17 L487.65,1122.11 L489.42,1123.04 L491.20,1123.98 L492.97,1124.91 L494.75,1125.84 L496.53,1126.77 L498.30,1127.70 L500.08,1128.63 L501.86,1129.55 L503.64,1130.47 L505.43,1131.39 L507.21,1132.31 L509.00,1133.23 L510.78,1134.14 L512.57,1135.05 L514.36,1135.96 L516.15,1136.87 L517.94,1137.78 L519.73,1138.68 L521.53,1139.58 L523.32,1140.48 L525.12,1141.38 L526.91,1142.28 L528.71,1143.17 L530.51,1144.06 L532.31,1144.95 L534.11,1145.83 L535.92,1146.72 L537.72,1147.60 L539.53,1148.48 L541.33,1149.35 L543.14,1150.23 L544.95,1151.10 L546.76,1151.97 L548.57,1152.83 L550.38,1153.70 L552.20,1154.56 L554.01,1155.42 L555.83,1156.27 L557.65,1157.13 L559.47,1157.98 L561.29,1158.83 L563.11,1159.67 L564.93,1160.52 L566.76,1161.36 L568.58,1162.20 L570.41,1163.03 L572.23,1163.86 L574.06,1164.69 L575.89,1165.52 L577.72,1166.34 L579.56,1167.16 L581.39,1167.98 L583.23,1168.80 L585.06,1169.61 L586.90,1170.42 L588.74,1171.22 L590.58,1172.03 L592.42,1172.83 L594.26,1173.62 L596.11,1174.42 L597.95,1175.21 L599.80,1176.00 L601.65,1176.78 L603.50,1177.56 L605.35,1178.34 L607.20,1179.12 L609.05,1179.89 L610.91,1180.66 L612.76,1181.42 L614.62,1182.18 L616.48,1182.94 L618.34,1183.70 L620.20,1184.45 L622.06,1185.20 L623.92,1185.94 L625.79,1186.68 L627.65,1187.42 L629.52,1188.16 L631.39,1188.89 L633.26,1189.62 L635.13,1190.34 L637.00,1191.06 L638.88,1191.78 L640.75,1192.49 L642.63,1193.20 L644.51,1193.91 L646.39,1194.61 L648.27,1195.31 L650.15,1196.01 L652.03,1196.70 L653.92,1197.39 L655.80,1198.07 L657.69,1198.75 L659.58,1199.43 L661.47,1200.10 L663.36,1200.77 L665.25,1201.43 L667.15,1202.09 L669.04,1202.75 L670.94,1203.40 L672.84,1204.05 L674.74,1204.70 L676.64,1205.34 L678.54,1205.97 L680.44,1206.61 L682.35,1207.24 L684.25,1207.86 L686.16,1208.48 L688.07,1209.10 L689.98,1209.71 L691.89,1210.32 L693.80,1210.92 L695.72,1211.52 L697.63,1212.11 L699.55,1212.70 L701.47,1213.29 L703.39,1213.87 L705.31,1214.45 L707.24,1215.02 L709.16,1215.59 L711.08,1216.16 L713.01,1216.72 L714.94,1217.27 L716.87,1217.82 L718.80,1218.37 L720.73,1218.91 L722.67,1219.45 L724.60,1219.98 L726.54,1220.51 L728.48,1221.04 L730.42,1221.55 L732.36,1222.07 L734.30,1222.58 L736.25,1223.08 L738.19,1223.58 L740.14,1224.08 L742.09,1224.57 L744.04,1225.05 L745.99,1225.54 L747.94,1226.01 L749.89,1226.48 L751.85,1226.95 L753.81,1227.41 L755.77,1227.87 L757.72,1228.32 L759.69,1228.76 L761.65,1229.21 L763.61,1229.64 L765.58,1230.07 L767.55,1230.50 L769.51,1230.92 L771.48,1231.34 L773.46,1231.75 L775.43,1232.15 L777.40,1232.56 L779.38,1232.95 L781.36,1233.34 L783.34,1233.73 L785.32,1234.11 L787.30,1234.48 L789.28,1234.85 L791.27,1235.21 L793.25,1235.57 L795.24,1235.92 L797.23,1236.27 L799.22,1236.61 L801.21,1236.95" fill="none" stroke="#0000dc" stroke-width="4.60" stroke-linecap="round" stroke-linejoin="round" />
<path d="M182.06,1097.92 L182.06,1099.95 L182.06,1101.98 L182.06,1104.00 L182.07,1106.03 L182.08,1108.06 L182.09,1110.08 L182.11,1112.10 L182.13,1114.12 L182.15,1116.14 L182.18,1118.16 L182.21,1120.18 L182.24,1122.19 L182.27,1124.21 L182.31,1126.22 L182.35,1128.23 L182.39,1130.24 L182.44,1132.25 L182.49,1134.26 L182.54,1136.27 L182.59,1138.28 L182.65,1140.29 L182.70,1142.29 L182.76,1144.29 L182.83,1146.30 L182.89,1148.30 L182.96,1150.30 L183.03,1152.30 L183.10,1154.31 L183.18,1156.31 L183.25,1158.30 L183.33,1160.30 L183.41,1162.30 L183.49,1164.30 L183.58,1166.30 L183.66,1168.29 L183.75,1170.29 L183.84,1172.28 L183.93,1174.28 L184.03,1176.27 L184.12,1178.27 L184.22,1180.26 L184.31,1182.26 L184.41,1184.25 L184.51,1186.24 L184.62,1188.23 L184.72,1190.23 L184.82,1192.22 L184.93,1194.21 L185.04,1196.21 L185.15,1198.20 L185.25,1200.19 L185.36,1202.18 L185.48,1204.18 L185.59,1206.17 L185.70,1208.16 L185.81,1210.15 L185.93,1212.15 L186.05,1214.14 L186.16,1216.13 L186.28,1218.13 L186.40,1220.12 L186.51,1222.12 L186.63,1224.11 L186.75,1226.11 L186.87,1228.10 L186.99,1230.10 L187.11,1232.09 L187.23,1234.09 L187.35,1236.09 L187.47,1238.09 L187.59,1240.08 L187.71,1242.08 L187.84,1244.08 L187.96,1246.08 L188.08,1248.09 L188.20,1250.09 L188.32,1252.09 L188.44,1254.09 L188.56,1256.10 L188.68,1258.10 L188.81,1260.11 L188.93,1262.12 L189.05,1264.12 L189.18,1266.13 L189.31,1268.14 L189.44,1270.15 L189.58,1272.16 L189.71,1274.17 L189.86,1276.17 L190.00,1278.18 L190.15,1280.19 L190.31,1282.20 L190.47,1284.21 L190.64,1286.22 L190.81,1288.23 L190.99,1290.24 L191.17,1292.25 L191.37,1294.26 L191.56,1296.27 L191.77,1298.28 L191.99,1300.29 L192.21,1302.29 L192.44,1304.30 L192.69,1306.31 L192.94,1308.31 L193.20,1310.32 L193.47,1312.32 L193.75,1314.33 L194.05,1316.33 L194.35,1318.33 L194.67,1320.34 L195.00,1322.34 L195.34,1324.34 L195.69,1326.33 L196.06,1328.33 L196.44,1330.33 L196.84,1332.32 L197.25,1334.32 L197.67,1336.31 L198.11,1338.30 L198.56,1340.29 L199.03,1342.28 L199.52,1344.26 L200.02,1346.25 L200.54,1348.23 L201.08,1350.21 L201.63,1352.19 L202.21,1354.16 L202.80,1356.13 L203.42,1358.08 L204.07,1360.02 L204.73,1361.95 L205.43,1363.86 L206.15,1365.75 L206.91,1367.62 L207.69,1369.47 L208.51,1371.30 L209.36,1373.10 L210.24,1374.87 L211.17,1376.61 L212.13,1378.31 L213.12,1379.99 L214.16,1381.62 L215.24,1383.22 L216.37,1384.77 L217.54,1386.28 L218.75,1387.75 L220.01,1389.17 L221.32,1390.55 L222.66,1391.88 L224.05,1393.17 L225.48,1394.41 L226.95,1395.62 L228.46,1396.78 L230.00,1397.90 L231.58,1398.99 L233.19,1400.03 L234.83,1401.03 L236.50,1402.00 L238.20,1402.93 L239.93,1403.83 L241.68,1404.69 L243.46,1405.52 L245.26,1406.31 L247.09,1407.07 L248.93,1407.80 L250.79,1408.49 L252.67,1409.16 L254.57,1409.79 L256.48,1410.40 L258.41,1410.98 L260.34,1411.53 L262.29,1412.06 L264.24,1412.56 L266.21,1413.03 L268.17,1413.48 L270.15,1413.90 L272.12,1414.31 L274.11,1414.69 L276.09,1415.05 L278.08,1415.38 L280.07,1415.70 L282.07,1416.00 L284.06,1416.28 L286.07,1416.54 L288.07,1416.79 L290.08,1417.01 L292.09,1417.22 L294.10,1417.42 L296.11,1417.60 L298.13,1417.77 L300.15,1417.93 L302.17,1418.07 L304.19,1418.20 L306.21,1418.32 L308.24,1418.43 L310.26,1418.53 L312.29,1418.62 L314.32,1418.70 L316.35,1418.78 L318.38,1418.84 L320.41,1418.91 L322.44,1418.96 L324.47,1419.01 L326.50,1419.06 L328.53,1419.11 L330.56,1419.15 L332.59,1419.19 L334.62,1419.23 L336.65,1419.26 L338.68,1419.30 L340.70,1419.34 L342.73,1419.38 L344.76,1419.42 L346.78,1419.46 L348.81,1419.49 L350.83,1419.53 L352.85,1419.57 L354.87,1419.61 L356.89,1419.65 L358.92,1419.69 L360.93,1419.73 L362.95,1419.77 L364.97,1419.81 L366.99,1419.85 L369.01,1419.90 L371.02,1419.94 L373.04,1419.98 L375.05,1420.02 L377.07,1420.06 L379.08,1420.10 L381.09,1420.14 L383.10,1420.19 L385.12,1420.23 L387.13,1420.27 L389.14,1420.31 L391.15,1420.35 L393.16,1420.40 L395.16,1420.44 L397.17,1420.48 L399.18,1420.52 L401.19,1420.56 L403.19,1420.61 L405.20,1420.65 L407.20,1420.69 L409.21,1420.73 L411.21,1420.78 L413.22,1420.82 L415.22,1420.86 L417.22,1420.91 L419.22,1420.95 L421.22,1420.99 L423.22,1421.03 L425.23,1421.08 L427.23,1421.12 L429.22,1421.16 L431.22,1421.20 L433.22,1421.25 L435.22,1421.29 L437.22,1421.33 L439.22,1421.38 L441.21,1421.42 L443.21,1421.46 L445.21,1421.50 L447.20,1421.54 L449.20,1421.59 L451.19,1421.63 L453.19,1421.67 L455.18,1421.71 L457.18,1421.75 L459.17,1421.80 L461.16,1421.84 L463.16,1421.88 L465.15,1421.92 L467.14,1421.96 L469.13,1422.00 L471.12,1422.04 L473.12,1422.08 L475.11,1422.12 L477.10,1422.17 L479.09,1422.21 L481.08,1422.25 L483.07,1422.29 L485.06,1422.33 L487.05,1422.37 L489.04,1422.40 L491.03,1422.44 L493.02,1422.48 L495.01,1422.52 L497.00,1422.56 L498.99,1422.60 L500.97,1422.64 L502.96,1422.67 L504.95,1422.71 L506.94,1422.75 L508.93,1422.79 L510.91,1422.82 L512.90,1422.86 L514.89,1422.90 L516.88,1422.93 L518.87,1422.97 L520.85,1423.00 L522.84,1423.04 L524.83,1423.07 L526.81,1423.11 L528.80,1423.14 L530.79,1423.18 L532.78,1423.21 L534.76,1423.24 L536.75,1423.28 L538.74,1423.31 L540.72,1423.34 L542.71,1423.37 L544.70,1423.40 L546.68,1423.44 L548.67,1423.47 L550.66,1423.50 L552.65,1423.53 L554.63,1423.56 L556.62,1423.59 L558.61,1423.61 L560.60,1423.64 L562.58,1423.67 L564.57,1423.70 L566.56,1423.73 L568.55,1423.75 L570.53,1423.78 L572.52,1423.80 L574.51,1423.83 L576.50,1423.86 L578.49,1423.88 L580.48,1423.90 L582.46,1423.93 L584.45,1423.95 L586.44,1423.97 L588.43,1424.00 L590.42,1424.02 L592.41,1424.04 L594.40,1424.06 L596.39,1424.08 L598.38,1424.10 L600.37,1424.12 L602.36,1424.14 L604.35,1424.16 L606.35,1424.17 L608.34,1424.19 L610.33,1424.21 L612.32,1424.22 L614.32,1424.24 L616.31,1424.25 L618.30,1424.27 L620.29,1424.28 L622.29,1424.29 L624.28,1424.31 L626.28,1424.32 L628.27,1424.33 L630.27,1424.34 L632.26,1424.35 L634.26,1424.36 L636.26,1424.37 L638.25,1424.38 L640.25,1424.39 L642.25,1424.39 L644.25,1424.40 L646.24,1424.40 L648.24,1424.41 L650.24,1424.41 L652.24,1424.42 L654.24,1424.42 L656.24,1424.42 L658.25,1424.42 L660.25,1424.43 L662.25,1424.43 L664.25,1424.43 L666.26,1424.42 L668.26,1424.42 L670.26,1424.42 L672.27,1424.42 L674.27,1424.41 L676.28,1424.41 L678.29,1424.40 L680.29,1424.40 L682.30,1424.39 L684.31,1424.38 L686.32,1424.37 L688.33,1424.36 L690.34,1424.35 L692.35,1424.34 L694.36,1424.33 L696.37,1424.32 L698.38,1424.30 L700.40,1424.29 L702.41,1424.28 L704.43,1424.26 L706.44,1424.24 L708.46,1424.23 L710.47,1424.21 L712.49,1424.19 L714.51,1424.17 L716.53,1424.15 L718.55,1424.13 L720.57,1424.10 L722.59,1424.08 L724.61,1424.06 L726.63,1424.03 L728.65,1424.00 L730.68,1423.98 L732.70,1423.95 L734.73,1423.92 L736.75,1423.89 L738.78,1423.86 L740.81,1423.83 L742.84,1423.80 L744.87,1423.76 L746.90,1423.73 L748.93,1423.69 L750.96,1423.66 L752.99,1423.62 L755.03,1423.58 L757.06,1423.54 L759.10,1423.50 L761.13,1423.46 L763.17,1423.42 L765.21,1423.38 L767.25,1423.33 L769.29,1423.29 L771.33,1423.24 L773.37,1423.20 L775.41,1423.15 L777.46,1423.10 L779.50,1423.05 L781.55,1423.00 L783.60,1422.95 L785.64,1422.89 L787.69,1422.84 L789.74,1422.78 L791.79,1422.73 L793.84,1422.67 L795.90,1422.61 L797.95,1422.55 L800.01,1422.49" fill="none" stroke="#000" stroke-width="4.40" stroke-linecap="round" stroke-linejoin="round" />
<path d="M184.79,1372.64 L185.18,1370.66 L185.58,1368.68 L185.97,1366.70 L186.35,1364.71 L186.74,1362.73 L187.12,1360.75 L187.50,1358.77 L187.87,1356.79 L188.25,1354.81 L188.62,1352.83 L188.98,1350.85 L189.35,1348.87 L189.71,1346.89 L190.07,1344.90 L190.42,1342.92 L190.78,1340.94 L191.13,1338.96 L191.48,1336.98 L191.82,1335.00 L192.17,1333.02 L192.51,1331.04 L192.85,1329.05 L193.18,1327.07 L193.52,1325.09 L193.85,1323.11 L194.18,1321.13 L194.51,1319.15 L194.84,1317.17 L195.16,1315.19 L195.48,1313.20 L195.80,1311.22 L196.12,1309.24 L196.44,1307.26 L196.75,1305.28 L197.06,1303.30 L197.37,1301.31 L197.68,1299.33 L197.99,1297.35 L198.30,1295.37 L198.60,1293.39 L198.90,1291.40 L199.20,1289.42 L199.50,1287.44 L199.80,1285.46 L200.10,1283.48 L200.39,1281.49 L200.69,1279.51 L200.98,1277.53 L201.27,1275.55 L201.56,1273.56 L201.85,1271.58 L202.14,1269.60 L202.43,1267.62 L202.72,1265.63 L203.00,1263.65 L203.29,1261.67 L203.57,1259.68 L203.85,1257.70 L204.14,1255.72 L204.42,1253.74 L204.70,1251.75 L204.98,1249.77 L205.26,1247.79 L205.54,1245.80 L205.82,1243.82 L206.09,1241.83 L206.37,1239.85 L206.65,1237.87 L206.93,1235.88 L207.20,1233.90 L207.48,1231.92 L207.75,1229.93 L208.03,1227.95 L208.31,1225.96 L208.58,1223.98 L208.86,1221.99 L209.13,1220.01 L209.41,1218.03 L209.68,1216.04 L209.96,1214.06 L210.23,1212.07 L210.51,1210.09 L210.78,1208.10 L211.06,1206.12 L211.34,1204.13 L211.61,1202.14 L211.89,1200.16 L212.17,1198.17 L212.45,1196.19 L212.73,1194.20 L213.01,1192.22 L213.29,1190.23 L213.57,1188.24 L213.85,1186.26 L214.13,1184.27 L214.41,1182.28 L214.70,1180.30 L214.98,1178.31 L215.27,1176.32 L215.55,1174.34 L215.84,1172.35 L216.13,1170.36 L216.42,1168.38 L216.71,1166.39 L217.00,1164.40 L217.29,1162.41 L217.59,1160.43 L217.88,1158.44 L218.18,1156.45 L218.47,1154.46 L218.77,1152.47 L219.07,1150.48 L219.38,1148.50 L219.68,1146.51 L219.99,1144.52 L220.29,1142.53 L220.60,1140.54 L220.91,1138.55 L221.22,1136.56 L221.54,1134.57 L221.85,1132.58 L222.17,1130.59 L222.49,1128.60 L222.81,1126.61 L223.13,1124.62 L223.46,1122.63 L223.79,1120.64 L224.12,1118.65 L224.45,1116.66 L224.78,1114.67 L225.12,1112.68 L225.45,1110.69 L225.80,1108.69 L226.14,1106.70 L226.48,1104.71 L226.83,1102.72 L227.19,1100.73 L227.55,1098.74 L227.92,1096.75 L228.29,1094.77 L228.67,1092.78 L229.07,1090.80 L229.47,1088.82 L229.89,1086.85 L230.31,1084.88 L230.76,1082.91 L231.21,1080.95 L231.68,1078.99 L232.17,1077.04 L232.68,1075.09 L233.20,1073.15 L233.74,1071.21 L234.31,1069.29 L234.89,1067.36 L235.50,1065.45 L236.13,1063.54 L236.78,1061.65 L237.46,1059.76 L238.17,1057.88 L238.90,1056.00 L239.66,1054.14 L240.45,1052.29 L241.27,1050.45 L242.12,1048.62 L243.01,1046.80 L243.92,1044.99 L244.87,1043.19 L245.86,1041.41 L246.88,1039.64 L247.94,1037.88 L249.03,1036.13 L250.17,1034.41 L251.34,1032.75 L252.56,1031.15 L253.81,1029.65 L255.11,1028.26 L256.45,1027.00 L257.83,1025.91 L259.26,1024.99 L260.73,1024.28 L262.25,1023.78 L263.81,1023.53 L265.42,1023.51 L267.06,1023.71 L268.75,1024.10 L270.46,1024.67 L272.21,1025.40 L273.98,1026.28 L275.77,1027.28 L277.58,1028.40 L279.41,1029.60 L281.25,1030.88 L283.09,1032.22 L284.94,1033.59 L286.79,1034.98 L288.63,1036.38 L290.47,1037.76 L292.30,1039.11 L294.11,1040.41 L295.91,1041.66 L297.69,1042.84 L299.46,1043.98 L301.22,1045.07 L302.97,1046.11 L304.72,1047.11 L306.46,1048.06 L308.19,1048.99 L309.92,1049.88 L311.65,1050.74 L313.38,1051.58 L315.12,1052.39 L316.86,1053.18 L318.60,1053.96 L320.36,1054.72 L322.12,1055.48 L323.89,1056.22 L325.67,1056.96 L327.46,1057.69 L329.25,1058.41 L331.06,1059.12 L332.87,1059.82 L334.69,1060.52 L336.52,1061.21 L338.35,1061.89 L340.19,1062.57 L342.04,1063.24 L343.89,1063.91 L345.75,1064.57 L347.61,1065.23 L349.48,1065.88 L351.36,1066.53 L353.24,1067.17 L355.12,1067.81 L357.01,1068.45 L358.90,1069.09 L360.79,1069.72 L362.69,1070.36 L364.59,1070.99 L366.50,1071.62 L368.41,1072.25 L370.31,1072.88 L372.23,1073.51 L374.14,1074.14 L376.05,1074.77 L377.97,1075.40 L379.89,1076.03 L381.80,1076.67 L383.72,1077.31 L385.64,1077.95 L387.55,1078.59 L389.47,1079.24 L391.39,1079.89 L393.30,1080.54 L395.22,1081.20 L397.13,1081.87 L399.04,1082.53 L400.95,1083.21 L402.85,1083.89 L404.76,1084.58 L406.66,1085.27 L408.55,1085.97 L410.45,1086.68 L412.34,1087.39 L414.23,1088.12 L416.11,1088.85 L417.98,1089.59 L419.86,1090.34 L421.73,1091.10 L423.59,1091.87 L425.45,1092.65 L427.30,1093.43 L429.15,1094.23 L430.99,1095.03 L432.83,1095.84 L434.67,1096.66 L436.50,1097.49 L438.33,1098.33 L440.15,1099.17 L441.97,1100.02 L443.79,1100.87 L445.60,1101.74 L447.41,1102.60 L449.22,1103.48 L451.02,1104.36 L452.82,1105.25 L454.62,1106.14 L456.41,1107.04 L458.20,1107.95 L459.99,1108.86 L461.78,1109.77 L463.56,1110.69 L465.34,1111.61 L467.12,1112.54 L468.90,1113.47 L470.67,1114.41 L472.45,1115.35 L474.22,1116.29 L475.99,1117.23 L477.75,1118.18 L479.52,1119.14 L481.28,1120.09 L483.05,1121.05 L484.81,1122.01 L486.57,1122.97 L488.33,1123.93 L490.09,1124.89 L491.85,1125.86 L493.60,1126.83 L495.36,1127.80 L497.12,1128.77 L498.87,1129.74 L500.63,1130.71 L502.38,1131.68 L504.14,1132.65 L505.90,1133.62 L507.65,1134.59 L509.41,1135.56 L511.16,1136.52 L512.92,1137.49 L514.68,1138.46 L516.44,1139.42 L518.20,1140.39 L519.96,1141.35 L521.72,1142.31 L523.48,1143.26 L525.24,1144.22 L527.01,1145.17 L528.78,1146.12 L530.54,1147.06 L532.31,1148.01 L534.09,1148.95 L535.86,1149.88 L537.63,1150.81 L539.41,1151.74 L541.19,1152.66 L542.97,1153.58 L544.76,1154.50 L546.55,1155.41 L548.34,1156.31 L550.13,1157.21 L551.92,1158.11 L553.72,1159.00 L555.52,1159.88 L557.32,1160.76 L559.12,1161.64 L560.93,1162.51 L562.74,1163.38 L564.55,1164.24 L566.36,1165.10 L568.18,1165.95 L570.00,1166.80 L571.81,1167.65 L573.64,1168.48 L575.46,1169.32 L577.29,1170.15 L579.12,1170.98 L580.95,1171.80 L582.78,1172.61 L584.61,1173.43 L586.45,1174.24 L588.29,1175.04 L590.13,1175.84 L591.97,1176.63 L593.82,1177.42 L595.67,1178.21 L597.52,1178.99 L599.37,1179.77 L601.22,1180.54 L603.07,1181.31 L604.93,1182.08 L606.79,1182.84 L608.65,1183.59 L610.51,1184.34 L612.38,1185.09 L614.24,1185.84 L616.11,1186.57 L617.98,1187.31 L619.85,1188.04 L621.72,1188.77 L623.60,1189.49 L625.47,1190.21 L627.35,1190.92 L629.23,1191.63 L631.11,1192.34 L633.00,1193.04 L634.88,1193.74 L636.77,1194.43 L638.65,1195.13 L640.54,1195.81 L642.43,1196.49 L644.33,1197.17 L646.22,1197.85 L648.11,1198.52 L650.01,1199.18 L651.91,1199.85 L653.81,1200.51 L655.71,1201.16 L657.61,1201.81 L659.51,1202.46 L661.42,1203.10 L663.33,1203.74 L665.23,1204.38 L667.14,1205.01 L669.05,1205.64 L670.96,1206.26 L672.88,1206.89 L674.79,1207.50 L676.70,1208.12 L678.62,1208.73 L680.54,1209.33 L682.45,1209.94 L684.37,1210.53 L686.29,1211.13 L688.22,1211.72 L690.14,1212.31 L692.06,1212.90 L693.99,1213.48 L695.91,1214.05 L697.84,1214.63 L699.77,1215.20 L701.70,1215.77 L703.63,1216.33 L705.56,1216.89 L707.49,1217.45 L709.42,1218.00 L711.35,1218.55 L713.29,1219.10 L715.22,1219.64 L717.16,1220.18 L719.09,1220.72 L721.03,1221.25 L722.97,1221.78 L724.91,1222.31 L726.84,1222.83 L728.78,1223.35 L730.73,1223.87 L732.67,1224.39 L734.61,1224.90 L736.55,1225.40 L738.49,1225.91 L740.44,1226.41 L742.38,1226.91 L744.33,1227.40 L746.27,1227.89 L748.22,1228.38 L750.16,1228.87 L752.11,1229.35 L754.06,1229.83 L756.00,1230.31 L757.95,1230.78 L759.90,1231.25 L761.85,1231.72 L763.80,1232.18 L765.75,1232.65 L767.70,1233.10 L769.65,1233.56 L771.60,1234.01 L773.55,1234.46 L775.50,1234.91 L777.45,1235.36 L779.40,1235.80 L781.35,1236.24 L783.30,1236.67 L785.26,1237.10 L787.21,1237.53 L789.16,1237.96 L791.11,1238.39 L793.06,1238.81 L795.02,1239.23 L796.97,1239.65 L798.92,1240.06 L800.87,1240.47" fill="none" stroke="#e00a4b" stroke-width="3.60" stroke-linecap="round" stroke-linejoin="round" stroke-dasharray="12.5 16.5" stroke-dashoffset="-1.6"/>
<rect x="162.50" y="783.50" width="641.70" height="640.50" fill="none" stroke="#000" stroke-width="3.50"/>
<line x1="256.5" y1="863.1" x2="318.5" y2="863.1" stroke="#0000dc" stroke-width="4.2" stroke-linecap="round"/>
<text x="325.00" y="875.00" font-size="31.50" text-anchor="start" font-weight="normal" fill="#0000dc" font-family='"Liberation Sans", sans-serif' >Total conductivity</text>
<line x1="270.5" y1="913" x2="285.5" y2="913" stroke="#e00a4b" stroke-width="3" stroke-linecap="round"/>
<line x1="299" y1="913" x2="314" y2="913" stroke="#e00a4b" stroke-width="3" stroke-linecap="round"/>
<text x="325.00" y="925.00" font-size="31.50" text-anchor="start" font-weight="normal" fill="#e00a4b" font-family='"Liberation Sans", sans-serif' >Interband contribution</text>
<line x1="256.5" y1="962.9" x2="318.5" y2="962.9" stroke="#000" stroke-width="4" stroke-linecap="round"/>
<text x="325.00" y="974.00" font-size="31.50" text-anchor="start" font-weight="normal" fill="#000" font-family='"Liberation Sans", sans-serif' >Charge-carrier contribution</text>
<text x="723.10" y="859.40" font-size="32.00" text-anchor="start" font-weight="bold" fill="#000" font-family='"Liberation Sans", sans-serif' >(b)</text>
<rect x="319.3" y="1590.50" width="389.90" height="651.00" fill="#fff797"/>
<line x1="275.00" y1="2241.50" x2="275.00" y2="2231.30" stroke="#000" stroke-width="3.00" stroke-linecap="round"/>
<line x1="275.00" y1="1590.50" x2="275.00" y2="1600.70" stroke="#000" stroke-width="3.00" stroke-linecap="round"/>
<line x1="493.25" y1="2241.50" x2="493.25" y2="2231.30" stroke="#000" stroke-width="3.00" stroke-linecap="round"/>
<line x1="493.25" y1="1590.50" x2="493.25" y2="1600.70" stroke="#000" stroke-width="3.00" stroke-linecap="round"/>
<line x1="711.50" y1="2241.50" x2="711.50" y2="2231.30" stroke="#000" stroke-width="3.00" stroke-linecap="round"/>
<line x1="711.50" y1="1590.50" x2="711.50" y2="1600.70" stroke="#000" stroke-width="3.00" stroke-linecap="round"/>
<line x1="188.15" y1="2241.50" x2="188.15" y2="2236.30" stroke="#000" stroke-width="3.00" stroke-linecap="round"/>
<line x1="188.15" y1="1590.50" x2="188.15" y2="1595.70" stroke="#000" stroke-width="3.00" stroke-linecap="round"/>
<line x1="209.30" y1="2241.50" x2="209.30" y2="2236.30" stroke="#000" stroke-width="3.00" stroke-linecap="round"/>
<line x1="209.30" y1="1590.50" x2="209.30" y2="1595.70" stroke="#000" stroke-width="3.00" stroke-linecap="round"/>
<line x1="226.58" y1="2241.50" x2="226.58" y2="2236.30" stroke="#000" stroke-width="3.00" stroke-linecap="round"/>
<line x1="226.58" y1="1590.50" x2="226.58" y2="1595.70" stroke="#000" stroke-width="3.00" stroke-linecap="round"/>
<line x1="241.19" y1="2241.50" x2="241.19" y2="2236.30" stroke="#000" stroke-width="3.00" stroke-linecap="round"/>
<line x1="241.19" y1="1590.50" x2="241.19" y2="1595.70" stroke="#000" stroke-width="3.00" stroke-linecap="round"/>
<line x1="253.85" y1="2241.50" x2="253.85" y2="2236.30" stroke="#000" stroke-width="3.00" stroke-linecap="round"/>
<line x1="253.85" y1="1590.50" x2="253.85" y2="1595.70" stroke="#000" stroke-width="3.00" stroke-linecap="round"/>
<line x1="265.01" y1="2241.50" x2="265.01" y2="2236.30" stroke="#000" stroke-width="3.00" stroke-linecap="round"/>
<line x1="265.01" y1="1590.50" x2="265.01" y2="1595.70" stroke="#000" stroke-width="3.00" stroke-linecap="round"/>
<line x1="340.70" y1="2241.50" x2="340.70" y2="2236.30" stroke="#000" stroke-width="3.00" stroke-linecap="round"/>
<line x1="340.70" y1="1590.50" x2="340.70" y2="1595.70" stroke="#000" stroke-width="3.00" stroke-linecap="round"/>
<line x1="379.13" y1="2241.50" x2="379.13" y2="2236.30" stroke="#000" stroke-width="3.00" stroke-linecap="round"/>
<line x1="379.13" y1="1590.50" x2="379.13" y2="1595.70" stroke="#000" stroke-width="3.00" stroke-linecap="round"/>
<line x1="406.40" y1="2241.50" x2="406.40" y2="2236.30" stroke="#000" stroke-width="3.00" stroke-linecap="round"/>
<line x1="406.40" y1="1590.50" x2="406.40" y2="1595.70" stroke="#000" stroke-width="3.00" stroke-linecap="round"/>
<line x1="427.55" y1="2241.50" x2="427.55" y2="2236.30" stroke="#000" stroke-width="3.00" stroke-linecap="round"/>
<line x1="427.55" y1="1590.50" x2="427.55" y2="1595.70" stroke="#000" stroke-width="3.00" stroke-linecap="round"/>
<line x1="444.83" y1="2241.50" x2="444.83" y2="2236.30" stroke="#000" stroke-width="3.00" stroke-linecap="round"/>
<line x1="444.83" y1="1590.50" x2="444.83" y2="1595.70" stroke="#000" stroke-width="3.00" stroke-linecap="round"/>
<line x1="459.44" y1="2241.50" x2="459.44" y2="2236.30" stroke="#000" stroke-width="3.00" stroke-linecap="round"/>
<line x1="459.44" y1="1590.50" x2="459.44" y2="1595.70" stroke="#000" stroke-width="3.00" stroke-linecap="round"/>
<line x1="472.10" y1="2241.50" x2="472.10" y2="2236.30" stroke="#000" stroke-width="3.00" stroke-linecap="round"/>
<line x1="472.10" y1="1590.50" x2="472.10" y2="1595.70" stroke="#000" stroke-width="3.00" stroke-linecap="round"/>
<line x1="483.26" y1="2241.50" x2="483.26" y2="2236.30" stroke="#000" stroke-width="3.00" stroke-linecap="round"/>
<line x1="483.26" y1="1590.50" x2="483.26" y2="1595.70" stroke="#000" stroke-width="3.00" stroke-linecap="round"/>
<line x1="558.95" y1="2241.50" x2="558.95" y2="2236.30" stroke="#000" stroke-width="3.00" stroke-linecap="round"/>
<line x1="558.95" y1="1590.50" x2="558.95" y2="1595.70" stroke="#000" stroke-width="3.00" stroke-linecap="round"/>
<line x1="597.38" y1="2241.50" x2="597.38" y2="2236.30" stroke="#000" stroke-width="3.00" stroke-linecap="round"/>
<line x1="597.38" y1="1590.50" x2="597.38" y2="1595.70" stroke="#000" stroke-width="3.00" stroke-linecap="round"/>
<line x1="624.65" y1="2241.50" x2="624.65" y2="2236.30" stroke="#000" stroke-width="3.00" stroke-linecap="round"/>
<line x1="624.65" y1="1590.50" x2="624.65" y2="1595.70" stroke="#000" stroke-width="3.00" stroke-linecap="round"/>
<line x1="645.80" y1="2241.50" x2="645.80" y2="2236.30" stroke="#000" stroke-width="3.00" stroke-linecap="round"/>
<line x1="645.80" y1="1590.50" x2="645.80" y2="1595.70" stroke="#000" stroke-width="3.00" stroke-linecap="round"/>
<line x1="663.08" y1="2241.50" x2="663.08" y2="2236.30" stroke="#000" stroke-width="3.00" stroke-linecap="round"/>
<line x1="663.08" y1="1590.50" x2="663.08" y2="1595.70" stroke="#000" stroke-width="3.00" stroke-linecap="round"/>
<line x1="677.69" y1="2241.50" x2="677.69" y2="2236.30" stroke="#000" stroke-width="3.00" stroke-linecap="round"/>
<line x1="677.69" y1="1590.50" x2="677.69" y2="1595.70" stroke="#000" stroke-width="3.00" stroke-linecap="round"/>
<line x1="690.35" y1="2241.50" x2="690.35" y2="2236.30" stroke="#000" stroke-width="3.00" stroke-linecap="round"/>
<line x1="690.35" y1="1590.50" x2="690.35" y2="1595.70" stroke="#000" stroke-width="3.00" stroke-linecap="round"/>
<line x1="701.51" y1="2241.50" x2="701.51" y2="2236.30" stroke="#000" stroke-width="3.00" stroke-linecap="round"/>
<line x1="701.51" y1="1590.50" x2="701.51" y2="1595.70" stroke="#000" stroke-width="3.00" stroke-linecap="round"/>
<line x1="777.20" y1="2241.50" x2="777.20" y2="2236.30" stroke="#000" stroke-width="3.00" stroke-linecap="round"/>
<line x1="777.20" y1="1590.50" x2="777.20" y2="1595.70" stroke="#000" stroke-width="3.00" stroke-linecap="round"/>
<line x1="162.40" y1="2176.40" x2="167.60" y2="2176.40" stroke="#000" stroke-width="3.00" stroke-linecap="round"/>
<line x1="814.20" y1="2176.40" x2="809.00" y2="2176.40" stroke="#000" stroke-width="3.00" stroke-linecap="round"/>
<line x1="162.40" y1="2111.30" x2="172.60" y2="2111.30" stroke="#000" stroke-width="3.00" stroke-linecap="round"/>
<line x1="814.20" y1="2111.30" x2="804.00" y2="2111.30" stroke="#000" stroke-width="3.00" stroke-linecap="round"/>
<line x1="162.40" y1="2046.20" x2="167.60" y2="2046.20" stroke="#000" stroke-width="3.00" stroke-linecap="round"/>
<line x1="814.20" y1="2046.20" x2="809.00" y2="2046.20" stroke="#000" stroke-width="3.00" stroke-linecap="round"/>
<line x1="162.40" y1="1981.10" x2="172.60" y2="1981.10" stroke="#000" stroke-width="3.00" stroke-linecap="round"/>
<line x1="814.20" y1="1981.10" x2="804.00" y2="1981.10" stroke="#000" stroke-width="3.00" stroke-linecap="round"/>
<line x1="162.40" y1="1916.00" x2="167.60" y2="1916.00" stroke="#000" stroke-width="3.00" stroke-linecap="round"/>
<line x1="814.20" y1="1916.00" x2="809.00" y2="1916.00" stroke="#000" stroke-width="3.00" stroke-linecap="round"/>
<line x1="162.40" y1="1850.90" x2="172.60" y2="1850.90" stroke="#000" stroke-width="3.00" stroke-linecap="round"/>
<line x1="814.20" y1="1850.90" x2="804.00" y2="1850.90" stroke="#000" stroke-width="3.00" stroke-linecap="round"/>
<line x1="162.40" y1="1785.80" x2="167.60" y2="1785.80" stroke="#000" stroke-width="3.00" stroke-linecap="round"/>
<line x1="814.20" y1="1785.80" x2="809.00" y2="1785.80" stroke="#000" stroke-width="3.00" stroke-linecap="round"/>
<line x1="162.40" y1="1720.70" x2="172.60" y2="1720.70" stroke="#000" stroke-width="3.00" stroke-linecap="round"/>
<line x1="814.20" y1="1720.70" x2="804.00" y2="1720.70" stroke="#000" stroke-width="3.00" stroke-linecap="round"/>
<line x1="162.40" y1="1655.60" x2="167.60" y2="1655.60" stroke="#000" stroke-width="3.00" stroke-linecap="round"/>
<line x1="814.20" y1="1655.60" x2="809.00" y2="1655.60" stroke="#000" stroke-width="3.00" stroke-linecap="round"/>
<line x1="316.1" y1="1592.00" x2="316.1" y2="2240.00" stroke="#000" stroke-width="3.4" stroke-dasharray="18 11" stroke-dashoffset="18"/>
<line x1="711.3" y1="1592.00" x2="711.3" y2="2240.00" stroke="#000" stroke-width="3.4" stroke-dasharray="18 11" stroke-dashoffset="0"/>
<text x="274.00" y="2280.50" font-size="32.00" text-anchor="middle" font-weight="normal" fill="#000" font-family='"Liberation Sans", sans-serif' >0.1</text>
<text x="492.25" y="2280.50" font-size="32.00" text-anchor="middle" font-weight="normal" fill="#000" font-family='"Liberation Sans", sans-serif' >1</text>
<text x="710.50" y="2280.50" font-size="32.00" text-anchor="middle" font-weight="normal" fill="#000" font-family='"Liberation Sans", sans-serif' >10</text>
<text x="146.20" y="2249.10" font-size="32.00" text-anchor="end" font-weight="normal" fill="#000" font-family='"Liberation Sans", sans-serif' >-50</text>
<text x="146.20" y="2118.90" font-size="32.00" text-anchor="end" font-weight="normal" fill="#000" font-family='"Liberation Sans", sans-serif' >0</text>
<text x="146.20" y="1988.70" font-size="32.00" text-anchor="end" font-weight="normal" fill="#000" font-family='"Liberation Sans", sans-serif' >50</text>
<text x="146.20" y="1858.50" font-size="32.00" text-anchor="end" font-weight="normal" fill="#000" font-family='"Liberation Sans", sans-serif' >100</text>
<text x="146.20" y="1728.30" font-size="32.00" text-anchor="end" font-weight="normal" fill="#000" font-family='"Liberation Sans", sans-serif' >150</text>
<text x="146.20" y="1598.10" font-size="32.00" text-anchor="end" font-weight="normal" fill="#000" font-family='"Liberation Sans", sans-serif' >200</text>
<text x="489.20" y="2347.80" font-size="32.40" text-anchor="middle" font-weight="normal" fill="#000" font-family='"Liberation Sans", sans-serif' >Energy (eV)</text>
<text transform="translate(33.0,2189.3) rotate(-90)" font-size="31.9" font-family='"Liberation Sans", sans-serif' fill="#000">Contributions to the Dielectric Function</text>
<path d="M163.60,1627.21 L165.42,1627.28 L167.26,1627.37 L169.11,1627.47 L170.97,1627.58 L172.85,1627.70 L174.74,1627.84 L176.64,1627.99 L178.55,1628.15 L180.48,1628.33 L182.41,1628.52 L184.36,1628.72 L186.31,1628.94 L188.27,1629.17 L190.24,1629.42 L192.22,1629.68 L194.20,1629.96 L196.19,1630.25 L198.18,1630.56 L200.18,1630.88 L202.18,1631.22 L204.18,1631.57 L206.19,1631.94 L208.19,1632.33 L210.20,1632.73 L212.21,1633.15 L214.22,1633.59 L216.22,1634.04 L218.23,1634.52 L220.23,1635.01 L222.23,1635.51 L224.23,1636.04 L226.22,1636.58 L228.21,1637.15 L230.19,1637.73 L232.17,1638.33 L234.14,1638.95 L236.10,1639.58 L238.05,1640.24 L240.00,1640.92 L241.93,1641.62 L243.86,1642.33 L245.77,1643.07 L247.68,1643.83 L249.57,1644.61 L251.44,1645.41 L253.31,1646.23 L255.16,1647.07 L257.00,1647.94 L258.82,1648.83 L260.62,1649.73 L262.41,1650.67 L264.18,1651.62 L265.93,1652.59 L267.67,1653.59 L269.38,1654.61 L271.08,1655.66 L272.75,1656.73 L274.41,1657.82 L276.04,1658.94 L277.65,1660.08 L279.23,1661.24 L280.79,1662.43 L282.33,1663.64 L283.85,1664.88 L285.34,1666.14 L286.81,1667.43 L288.25,1668.73 L289.67,1670.06 L291.07,1671.41 L292.45,1672.79 L293.81,1674.18 L295.15,1675.59 L296.46,1677.03 L297.76,1678.48 L299.04,1679.95 L300.29,1681.45 L301.53,1682.96 L302.75,1684.48 L303.94,1686.03 L305.12,1687.59 L306.29,1689.17 L307.43,1690.77 L308.56,1692.38 L309.67,1694.00 L310.76,1695.64 L311.84,1697.30 L312.90,1698.97 L313.94,1700.65 L314.97,1702.35 L315.99,1704.06 L316.99,1705.78 L317.97,1707.51 L318.94,1709.26 L319.90,1711.01 L320.84,1712.78 L321.77,1714.55 L322.69,1716.34 L323.59,1718.13 L324.49,1719.94 L325.37,1721.75 L326.24,1723.57 L327.09,1725.40 L327.94,1727.23 L328.78,1729.07 L329.60,1730.92 L330.42,1732.77 L331.23,1734.63 L332.02,1736.49 L332.81,1738.36 L333.59,1740.23 L334.36,1742.11 L335.13,1743.98 L335.89,1745.86 L336.63,1747.75 L337.38,1749.63 L338.11,1751.52 L338.84,1753.41 L339.56,1755.29 L340.28,1757.18 L340.99,1759.08 L341.69,1760.97 L342.39,1762.86 L343.08,1764.76 L343.77,1766.65 L344.45,1768.55 L345.12,1770.45 L345.79,1772.35 L346.45,1774.25 L347.11,1776.15 L347.76,1778.05 L348.41,1779.95 L349.05,1781.86 L349.68,1783.76 L350.31,1785.67 L350.94,1787.58 L351.56,1789.49 L352.17,1791.40 L352.78,1793.31 L353.39,1795.22 L353.99,1797.13 L354.58,1799.04 L355.17,1800.96 L355.76,1802.87 L356.34,1804.79 L356.92,1806.71 L357.49,1808.63 L358.06,1810.55 L358.62,1812.47 L359.18,1814.39 L359.73,1816.31 L360.29,1818.23 L360.83,1820.15 L361.38,1822.08 L361.92,1824.00 L362.45,1825.93 L362.98,1827.86 L363.51,1829.79 L364.04,1831.71 L364.56,1833.64 L365.07,1835.57 L365.59,1837.50 L366.10,1839.43 L366.61,1841.37 L367.11,1843.30 L367.61,1845.23 L368.11,1847.17 L368.61,1849.10 L369.10,1851.04 L369.59,1852.97 L370.08,1854.91 L370.56,1856.85 L371.04,1858.79 L371.52,1860.73 L372.00,1862.67 L372.47,1864.61 L372.94,1866.55 L373.41,1868.49 L373.88,1870.43 L374.35,1872.37 L374.81,1874.31 L375.27,1876.26 L375.73,1878.20 L376.19,1880.15 L376.64,1882.09 L377.10,1884.04 L377.55,1885.98 L378.00,1887.93 L378.45,1889.88 L378.90,1891.82 L379.34,1893.77 L379.79,1895.72 L380.23,1897.67 L380.68,1899.62 L381.12,1901.56 L381.56,1903.51 L382.00,1905.46 L382.44,1907.41 L382.88,1909.37 L383.31,1911.32 L383.75,1913.27 L384.19,1915.22 L384.62,1917.17 L385.06,1919.12 L385.49,1921.08 L385.93,1923.03 L386.36,1924.98 L386.80,1926.94 L387.23,1928.89 L387.67,1930.84 L388.10,1932.80 L388.54,1934.75 L388.97,1936.71 L389.41,1938.66 L389.84,1940.61 L390.28,1942.57 L390.71,1944.52 L391.15,1946.48 L391.59,1948.43 L392.02,1950.39 L392.46,1952.35 L392.90,1954.30 L393.34,1956.26 L393.78,1958.21 L394.23,1960.17 L394.67,1962.12 L395.12,1964.08 L395.56,1966.04 L396.01,1967.99 L396.46,1969.95 L396.91,1971.90 L397.36,1973.86 L397.81,1975.82 L398.27,1977.77 L398.72,1979.73 L399.18,1981.68 L399.64,1983.64 L400.10,1985.59 L400.57,1987.55 L401.04,1989.51 L401.50,1991.46 L401.97,1993.42 L402.45,1995.37 L402.92,1997.33 L403.40,1999.28 L403.88,2001.23 L404.37,2003.19 L404.85,2005.14 L405.34,2007.09 L405.84,2009.05 L406.34,2011.00 L406.84,2012.95 L407.35,2014.90 L407.87,2016.85 L408.39,2018.79 L408.92,2020.74 L409.45,2022.68 L409.99,2024.63 L410.53,2026.57 L411.09,2028.51 L411.65,2030.44 L412.22,2032.38 L412.79,2034.32 L413.38,2036.25 L413.97,2038.18 L414.57,2040.11 L415.18,2042.03 L415.80,2043.95 L416.43,2045.87 L417.07,2047.79 L417.73,2049.71 L418.39,2051.62 L419.06,2053.53 L419.74,2055.43 L420.44,2057.34 L421.15,2059.24 L421.87,2061.13 L422.60,2063.03 L423.35,2064.92 L424.10,2066.80 L424.88,2068.68 L425.66,2070.56 L426.47,2072.42 L427.29,2074.28 L428.12,2076.13 L428.98,2077.96 L429.85,2079.78 L430.74,2081.59 L431.66,2083.38 L432.59,2085.15 L433.55,2086.91 L434.53,2088.64 L435.53,2090.35 L436.56,2092.04 L437.61,2093.71 L438.69,2095.35 L439.79,2096.96 L440.93,2098.54 L442.09,2100.10 L443.28,2101.62 L444.50,2103.11 L445.75,2104.57 L447.03,2105.99 L448.35,2107.37 L449.69,2108.72 L451.08,2110.03 L452.49,2111.29 L453.95,2112.52 L455.43,2113.70 L456.96,2114.84 L458.51,2115.94 L460.10,2117.00 L461.72,2118.01 L463.37,2118.99 L465.05,2119.92 L466.76,2120.82 L468.49,2121.68 L470.26,2122.50 L472.04,2123.28 L473.85,2124.03 L475.68,2124.74 L477.54,2125.41 L479.41,2126.05 L481.31,2126.65 L483.22,2127.22 L485.15,2127.75 L487.10,2128.25 L489.06,2128.72 L491.04,2129.16 L493.03,2129.56 L495.03,2129.93 L497.04,2130.27 L499.06,2130.59 L501.09,2130.87 L503.13,2131.12 L505.17,2131.34 L507.22,2131.54 L509.28,2131.71 L511.34,2131.85 L513.40,2131.96 L515.46,2132.05 L517.52,2132.11 L519.58,2132.15 L521.64,2132.16 L523.69,2132.15 L525.74,2132.11 L527.79,2132.06 L529.83,2131.98 L531.87,2131.87 L533.90,2131.75 L535.93,2131.61 L537.95,2131.45 L539.97,2131.27 L541.99,2131.08 L544.00,2130.87 L546.01,2130.64 L548.02,2130.40 L550.02,2130.14 L552.02,2129.87 L554.02,2129.59 L556.02,2129.29 L558.01,2128.99 L560.00,2128.67 L561.99,2128.35 L563.97,2128.01 L565.96,2127.67 L567.94,2127.33 L569.92,2126.97 L571.90,2126.61 L573.87,2126.25 L575.85,2125.88 L577.83,2125.51 L579.80,2125.14 L581.77,2124.76 L583.75,2124.39 L585.72,2124.02 L587.69,2123.64 L589.66,2123.27 L591.63,2122.90 L593.60,2122.54 L595.57,2122.18 L597.54,2121.82 L599.52,2121.47 L601.49,2121.13 L603.46,2120.79 L605.44,2120.46 L607.41,2120.14 L609.39,2119.82 L611.36,2119.51 L613.34,2119.21 L615.32,2118.91 L617.30,2118.62 L619.27,2118.34 L621.25,2118.07 L623.23,2117.80 L625.22,2117.53 L627.20,2117.27 L629.18,2117.02 L631.16,2116.78 L633.14,2116.54 L635.13,2116.30 L637.11,2116.07 L639.10,2115.85 L641.08,2115.63 L643.07,2115.42 L645.05,2115.21 L647.04,2115.01 L649.03,2114.82 L651.02,2114.62 L653.01,2114.44 L654.99,2114.26 L656.98,2114.08 L658.97,2113.91 L660.96,2113.74 L662.95,2113.58 L664.95,2113.42 L666.94,2113.27 L668.93,2113.12 L670.92,2112.97 L672.92,2112.83 L674.91,2112.69 L676.90,2112.56 L678.90,2112.43 L680.89,2112.31 L682.89,2112.18 L684.88,2112.07 L686.88,2111.95 L688.88,2111.84 L690.87,2111.73 L692.87,2111.63 L694.87,2111.53 L696.86,2111.43 L698.86,2111.33 L700.86,2111.24 L702.86,2111.15 L704.86,2111.06 L706.86,2110.98 L708.86,2110.90 L710.85,2110.82 L712.85,2110.74 L714.85,2110.67 L716.86,2110.60 L718.86,2110.53 L720.86,2110.46 L722.86,2110.39 L724.86,2110.33 L726.86,2110.27 L728.86,2110.21 L730.86,2110.15 L732.87,2110.09 L734.87,2110.04 L736.87,2109.98 L738.87,2109.93 L740.88,2109.88 L742.88,2109.83 L744.88,2109.78 L746.88,2109.73 L748.89,2109.68 L750.89,2109.64 L752.89,2109.59 L754.90,2109.54 L756.90,2109.50 L758.91,2109.45 L760.91,2109.41 L762.91,2109.37 L764.92,2109.32 L766.92,2109.28 L768.92,2109.24 L770.93,2109.19 L772.93,2109.15 L774.94,2109.10 L776.94,2109.06 L778.94,2109.02 L780.95,2108.97 L782.95,2108.92 L784.96,2108.88 L786.96,2108.83 L788.96,2108.78 L790.97,2108.73 L792.97,2108.68 L794.97,2108.63 L796.98,2108.58 L798.98,2108.53 L800.99,2108.47 L802.99,2108.42 L804.99,2108.36 L806.99,2108.30 L809.00,2108.24 L811.00,2108.17 L813.00,2108.11" fill="none" stroke="#0000dc" stroke-width="4.40" stroke-linecap="round" stroke-linejoin="round" />
<path d="M163.05,2063.70 L164.84,2062.80 L166.63,2061.89 L168.41,2060.96 L170.18,2060.02 L171.94,2059.07 L173.70,2058.10 L175.44,2057.12 L177.18,2056.12 L178.92,2055.12 L180.64,2054.10 L182.36,2053.06 L184.07,2052.02 L185.77,2050.96 L187.46,2049.89 L189.15,2048.81 L190.82,2047.71 L192.49,2046.60 L194.16,2045.48 L195.81,2044.35 L197.45,2043.20 L199.09,2042.04 L200.72,2040.88 L202.34,2039.69 L203.95,2038.50 L205.55,2037.30 L207.14,2036.08 L208.73,2034.86 L210.30,2033.62 L211.87,2032.37 L213.43,2031.11 L214.98,2029.84 L216.52,2028.55 L218.05,2027.26 L219.57,2025.95 L221.09,2024.64 L222.59,2023.31 L224.09,2021.98 L225.57,2020.63 L227.05,2019.27 L228.51,2017.91 L229.97,2016.53 L231.42,2015.14 L232.86,2013.75 L234.29,2012.34 L235.70,2010.92 L237.11,2009.50 L238.51,2008.06 L239.90,2006.62 L241.28,2005.16 L242.65,2003.70 L244.01,2002.23 L245.36,2000.74 L246.70,1999.25 L248.03,1997.75 L249.35,1996.24 L250.66,1994.73 L251.95,1993.20 L253.24,1991.67 L254.52,1990.12 L255.79,1988.57 L257.04,1987.01 L258.29,1985.45 L259.52,1983.87 L260.75,1982.29 L261.96,1980.70 L263.16,1979.10 L264.36,1977.49 L265.54,1975.88 L266.72,1974.26 L267.88,1972.63 L269.04,1971.00 L270.19,1969.36 L271.33,1967.71 L272.45,1966.06 L273.58,1964.40 L274.69,1962.73 L275.79,1961.06 L276.89,1959.39 L277.98,1957.70 L279.06,1956.02 L280.13,1954.32 L281.20,1952.63 L282.25,1950.92 L283.31,1949.22 L284.35,1947.50 L285.39,1945.79 L286.42,1944.07 L287.44,1942.34 L288.46,1940.61 L289.47,1938.88 L290.48,1937.14 L291.48,1935.40 L292.48,1933.66 L293.47,1931.91 L294.45,1930.16 L295.43,1928.41 L296.40,1926.66 L297.37,1924.90 L298.34,1923.14 L299.30,1921.38 L300.26,1919.61 L301.21,1917.85 L302.16,1916.08 L303.10,1914.31 L304.04,1912.54 L304.98,1910.76 L305.92,1908.99 L306.85,1907.21 L307.78,1905.44 L308.70,1903.66 L309.63,1901.88 L310.55,1900.11 L311.47,1898.33 L312.38,1896.55 L313.30,1894.77 L314.21,1892.99 L315.12,1891.22 L316.03,1889.44 L316.94,1887.66 L317.85,1885.89 L318.76,1884.11 L319.66,1882.34 L320.57,1880.57 L321.47,1878.80 L322.38,1877.03 L323.28,1875.26 L324.19,1873.50 L325.09,1871.73 L326.00,1869.97 L326.91,1868.21 L327.81,1866.46 L328.72,1864.70 L329.63,1862.95 L330.54,1861.20 L331.45,1859.46 L332.37,1857.72 L333.28,1855.98 L334.20,1854.24 L335.12,1852.51 L336.04,1850.79 L336.97,1849.06 L337.89,1847.35 L338.82,1845.63 L339.76,1843.92 L340.69,1842.21 L341.63,1840.51 L342.58,1838.80 L343.53,1837.09 L344.48,1835.38 L345.45,1833.66 L346.42,1831.94 L347.39,1830.20 L348.38,1828.45 L349.37,1826.70 L350.37,1824.92 L351.39,1823.14 L352.41,1821.33 L353.44,1819.51 L354.49,1817.66 L355.54,1815.79 L356.61,1813.90 L357.70,1811.98 L358.79,1810.03 L359.91,1808.08 L361.05,1806.14 L362.22,1804.23 L363.43,1802.38 L364.68,1800.61 L365.97,1798.95 L367.32,1797.41 L368.73,1796.02 L370.21,1794.80 L371.76,1793.77 L373.37,1792.94 L375.04,1792.33 L376.74,1791.93 L378.45,1791.74 L380.16,1791.78 L381.86,1792.04 L383.52,1792.52 L385.14,1793.23 L386.69,1794.17 L388.17,1795.30 L389.61,1796.58 L391.00,1797.98 L392.35,1799.45 L393.67,1800.97 L394.96,1802.50 L396.22,1804.05 L397.45,1805.61 L398.66,1807.19 L399.84,1808.79 L400.99,1810.40 L402.12,1812.03 L403.22,1813.68 L404.30,1815.33 L405.36,1817.01 L406.40,1818.69 L407.41,1820.39 L408.40,1822.10 L409.37,1823.83 L410.32,1825.57 L411.25,1827.31 L412.16,1829.08 L413.06,1830.85 L413.93,1832.63 L414.79,1834.42 L415.63,1836.23 L416.46,1838.04 L417.27,1839.86 L418.07,1841.69 L418.85,1843.53 L419.62,1845.38 L420.37,1847.23 L421.12,1849.10 L421.85,1850.97 L422.57,1852.84 L423.28,1854.73 L423.98,1856.62 L424.68,1858.51 L425.36,1860.41 L426.04,1862.32 L426.71,1864.23 L427.37,1866.14 L428.02,1868.06 L428.68,1869.98 L429.32,1871.90 L429.96,1873.83 L430.60,1875.76 L431.24,1877.69 L431.87,1879.62 L432.50,1881.55 L433.13,1883.48 L433.76,1885.42 L434.39,1887.35 L435.02,1889.29 L435.65,1891.22 L436.29,1893.15 L436.92,1895.08 L437.56,1897.01 L438.21,1898.94 L438.86,1900.86 L439.51,1902.78 L440.17,1904.70 L440.83,1906.61 L441.51,1908.52 L442.19,1910.43 L442.87,1912.33 L443.57,1914.23 L444.28,1916.12 L444.99,1918.00 L445.72,1919.88 L446.45,1921.75 L447.20,1923.62 L447.96,1925.48 L448.73,1927.33 L449.50,1929.18 L450.29,1931.02 L451.09,1932.86 L451.89,1934.69 L452.71,1936.52 L453.53,1938.34 L454.37,1940.15 L455.22,1941.96 L456.07,1943.76 L456.93,1945.56 L457.81,1947.36 L458.69,1949.14 L459.58,1950.93 L460.48,1952.71 L461.39,1954.48 L462.31,1956.25 L463.23,1958.01 L464.17,1959.77 L465.11,1961.52 L466.07,1963.27 L467.03,1965.02 L468.00,1966.76 L468.97,1968.49 L469.96,1970.23 L470.95,1971.95 L471.96,1973.68 L472.97,1975.40 L473.99,1977.11 L475.01,1978.82 L476.05,1980.53 L477.09,1982.23 L478.14,1983.93 L479.19,1985.62 L480.26,1987.31 L481.33,1989.00 L482.41,1990.69 L483.49,1992.37 L484.59,1994.04 L485.69,1995.72 L486.80,1997.39 L487.91,1999.05 L489.03,2000.72 L490.16,2002.38 L491.30,2004.04 L492.44,2005.69 L493.58,2007.34 L494.74,2008.99 L495.90,2010.63 L497.07,2012.28 L498.24,2013.92 L499.42,2015.55 L500.61,2017.18 L501.80,2018.81 L503.01,2020.43 L504.22,2022.05 L505.43,2023.66 L506.66,2025.26 L507.89,2026.86 L509.13,2028.45 L510.39,2030.03 L511.65,2031.61 L512.91,2033.17 L514.19,2034.73 L515.48,2036.28 L516.78,2037.81 L518.08,2039.34 L519.40,2040.86 L520.73,2042.37 L522.07,2043.86 L523.42,2045.34 L524.78,2046.81 L526.15,2048.27 L527.53,2049.72 L528.92,2051.15 L530.33,2052.57 L531.74,2053.97 L533.17,2055.36 L534.62,2056.73 L536.07,2058.08 L537.54,2059.42 L539.02,2060.75 L540.51,2062.05 L542.02,2063.34 L543.54,2064.62 L545.07,2065.87 L546.62,2067.10 L548.19,2068.32 L549.76,2069.51 L551.35,2070.69 L552.96,2071.84 L554.58,2072.98 L556.22,2074.09 L557.87,2075.18 L559.54,2076.25 L561.23,2077.29 L562.93,2078.32 L564.64,2079.32 L566.38,2080.29 L568.13,2081.24 L569.89,2082.17 L571.68,2083.07 L573.48,2083.94 L575.29,2084.80 L577.12,2085.62 L578.97,2086.43 L580.83,2087.21 L582.70,2087.97 L584.58,2088.71 L586.48,2089.42 L588.38,2090.12 L590.30,2090.79 L592.22,2091.45 L594.16,2092.08 L596.10,2092.70 L598.05,2093.30 L600.00,2093.87 L601.96,2094.43 L603.92,2094.98 L605.89,2095.50 L607.86,2096.01 L609.84,2096.51 L611.81,2096.99 L613.79,2097.45 L615.77,2097.90 L617.74,2098.34 L619.72,2098.76 L621.70,2099.17 L623.68,2099.56 L625.66,2099.94 L627.63,2100.31 L629.61,2100.67 L631.59,2101.01 L633.57,2101.34 L635.55,2101.66 L637.53,2101.97 L639.51,2102.27 L641.49,2102.56 L643.47,2102.84 L645.45,2103.10 L647.43,2103.36 L649.41,2103.61 L651.39,2103.85 L653.37,2104.08 L655.35,2104.30 L657.34,2104.52 L659.32,2104.72 L661.30,2104.92 L663.28,2105.11 L665.27,2105.29 L667.25,2105.47 L669.23,2105.64 L671.22,2105.80 L673.20,2105.96 L675.19,2106.11 L677.17,2106.26 L679.16,2106.40 L681.14,2106.54 L683.13,2106.67 L685.11,2106.80 L687.10,2106.92 L689.09,2107.05 L691.08,2107.16 L693.06,2107.28 L695.05,2107.39 L697.04,2107.50 L699.03,2107.61 L701.02,2107.71 L703.01,2107.82 L705.00,2107.92 L706.99,2108.02 L708.98,2108.13 L710.98,2108.23 L712.97,2108.33 L714.96,2108.43 L716.95,2108.53 L718.95,2108.64 L720.94,2108.74 L722.94,2108.85 L724.93,2108.95 L726.93,2109.06 L728.93,2109.18 L730.92,2109.29 L732.92,2109.41 L734.92,2109.53 L736.92,2109.65 L738.92,2109.78 L740.92,2109.90 L742.92,2110.03 L744.92,2110.16 L746.92,2110.29 L748.92,2110.41 L750.92,2110.54 L752.92,2110.67 L754.92,2110.79 L756.92,2110.92 L758.93,2111.04 L760.93,2111.16 L762.93,2111.28 L764.94,2111.39 L766.94,2111.50 L768.94,2111.60 L770.95,2111.70 L772.95,2111.79 L774.95,2111.88 L776.96,2111.96 L778.96,2112.04 L780.96,2112.11 L782.96,2112.17 L784.97,2112.22 L786.97,2112.27 L788.97,2112.31 L790.98,2112.33 L792.98,2112.35 L794.98,2112.36 L796.98,2112.36 L798.98,2112.35 L800.98,2112.32 L802.99,2112.29 L804.99,2112.24 L806.99,2112.18 L808.99,2112.11 L810.99,2112.02 L812.98,2111.93" fill="none" stroke="#000" stroke-width="4.60" stroke-linecap="round" stroke-linejoin="round" />
<rect x="162.40" y="1590.50" width="651.80" height="651.00" fill="none" stroke="#000" stroke-width="3.50"/>
<line x1="411.5" y1="1664" x2="474" y2="1664" stroke="#0000dc" stroke-width="3.4" stroke-linecap="round"/>
<text x="481.20" y="1677.00" font-size="32.00" text-anchor="start" font-weight="normal" fill="#0000dc" font-family='"Liberation Sans", sans-serif' >Real</text>
<line x1="411.5" y1="1736" x2="474" y2="1736" stroke="#000" stroke-width="3.4" stroke-linecap="round"/>
<text x="481.20" y="1750.00" font-size="32.00" text-anchor="start" font-weight="normal" fill="#000" font-family='"Liberation Sans", sans-serif' >Imaginary</text>
<text x="733.00" y="1658.30" font-size="32.00" text-anchor="start" font-weight="bold" fill="#000" font-family='"Liberation Sans", sans-serif' >(c)</text>
<text transform="translate(738.5,2073.4) scale(1.38,1)" font-size="38.5" font-family='"Liberation Serif", serif' font-style="italic" fill="#000">&#949;</text>
<text x="760.2" y="2085.6" font-size="27" letter-spacing="0.8" font-family='"Liberation Serif", serif' font-style="italic" fill="#000">hf</text>
</svg>
</body></html>
